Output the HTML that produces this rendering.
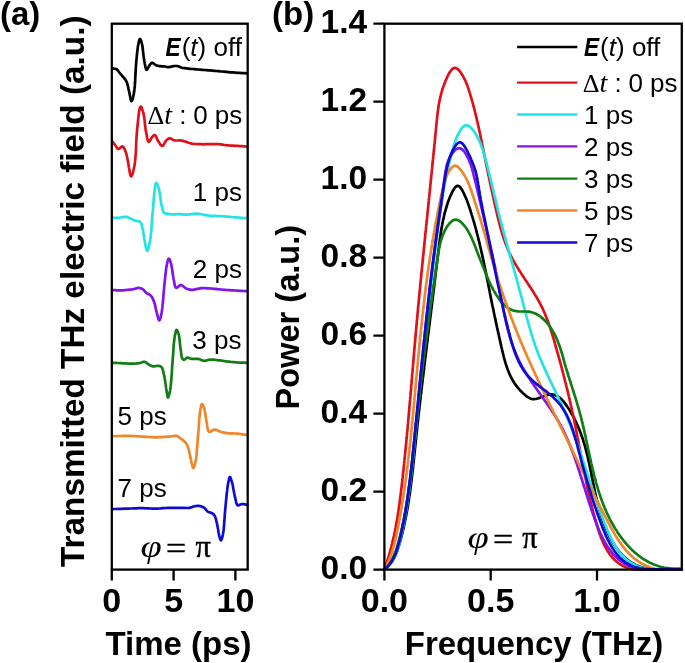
<!DOCTYPE html>
<html><head><meta charset="utf-8"><style>
html,body{margin:0;padding:0;background:#fff;}
svg{display:block;}
</style></head><body>
<svg width="685" height="663" viewBox="0 0 685 663">
<rect width="685" height="663" fill="#fff"/>
<g fill="none" stroke-width="2.7" stroke-linejoin="round" stroke-linecap="round">
<path stroke="#000000" d="M112.5 68.6L113.0 68.7L113.5 68.7L114.0 68.7L114.5 68.7L115.0 68.8L115.5 68.9L115.9 69.0L116.4 69.2L116.9 69.5L117.4 70.0L117.9 70.5L118.3 71.1L118.8 71.7L119.2 72.3L119.6 72.8L120.1 73.4L120.6 73.9L121.0 74.5L121.5 75.0L121.9 75.5L122.4 76.1L122.8 76.6L123.3 77.2L123.7 77.7L124.1 78.2L124.5 78.7L124.9 79.2L125.3 79.7L125.7 80.2L126.0 80.7L126.4 81.3L126.7 81.9L127.1 82.9L127.4 84.0L127.7 85.2L128.0 86.4L128.3 87.7L128.5 89.0L128.8 90.3L129.1 91.5L129.4 92.8L129.7 94.4L130.0 96.0L130.3 97.6L130.6 99.0L130.9 100.1L131.2 100.9L131.5 101.2L131.8 101.0L132.1 100.4L132.5 99.5L132.8 98.4L133.1 97.1L133.4 95.7L133.7 94.2L134.0 92.8L134.4 89.7L134.8 85.9L135.1 81.7L135.3 77.2L135.6 72.7L135.8 68.2L136.1 64.0L136.4 60.2L136.7 57.6L136.9 54.9L137.2 52.4L137.5 49.9L137.8 47.5L138.1 45.4L138.5 43.6L138.8 42.1L138.9 41.5L139.1 41.0L139.2 40.5L139.4 40.0L139.5 39.6L139.7 39.3L139.8 39.1L140.0 39.0L140.2 39.1L140.4 39.4L140.7 39.8L140.9 40.4L141.1 41.1L141.4 41.8L141.6 42.6L141.8 43.3L142.2 44.9L142.5 46.8L142.8 49.0L143.0 51.3L143.3 53.7L143.6 56.1L143.9 58.2L144.2 60.2L144.5 61.7L144.7 63.2L145.0 64.8L145.3 66.3L145.6 67.7L145.9 68.7L146.2 69.5L146.6 69.8L146.9 69.7L147.1 69.5L147.4 69.0L147.7 68.5L148.0 67.9L148.3 67.3L148.7 66.7L149.0 66.2L149.3 65.7L149.7 65.2L150.0 64.7L150.4 64.1L150.8 63.6L151.2 63.2L151.6 62.9L152.0 62.8L152.4 62.8L152.9 63.0L153.3 63.3L153.8 63.6L154.3 64.0L154.8 64.4L155.2 64.7L155.7 65.0L156.1 65.2L156.4 65.3L156.8 65.5L157.1 65.6L157.5 65.7L157.9 65.8L158.3 65.9L158.7 66.0L159.4 66.1L160.1 66.2L160.9 66.2L161.7 66.3L162.5 66.3L163.3 66.4L164.0 66.4L164.7 66.5L165.2 66.6L165.6 66.7L166.1 66.8L166.5 66.9L166.9 67.0L167.4 67.1L167.8 67.2L168.3 67.2L169.0 67.2L169.7 67.0L170.5 66.9L171.3 66.6L172.2 66.4L172.9 66.2L173.7 66.1L174.4 66.0L174.9 66.0L175.4 66.0L175.8 66.0L176.3 66.0L176.7 66.0L177.1 66.0L177.6 66.1L178.0 66.2L178.5 66.3L178.9 66.5L179.3 66.7L179.7 66.9L180.2 67.1L180.7 67.3L181.2 67.5L181.8 67.7L183.1 68.0L184.7 68.2L186.5 68.4L188.4 68.6L190.3 68.8L192.3 69.0L194.3 69.1L196.2 69.3L198.2 69.5L200.2 69.6L202.2 69.8L204.2 70.0L206.2 70.1L208.3 70.3L210.3 70.4L212.3 70.6L214.3 70.8L216.3 71.0L218.3 71.2L220.2 71.4L222.2 71.5L224.2 71.7L226.2 71.9L228.3 72.1L230.5 72.3L232.8 72.4L235.1 72.6L237.5 72.8L239.8 72.9L242.1 73.1L244.5 73.2L246.8 73.4"/>
<path stroke="#e0101a" d="M112.5 141.8L112.9 142.3L113.3 142.7L113.6 143.2L114.0 143.7L114.4 144.1L114.8 144.6L115.1 145.0L115.5 145.5L115.8 146.0L116.2 146.5L116.5 147.1L116.8 147.6L117.2 148.1L117.5 148.5L117.9 148.8L118.3 149.0L118.7 148.9L119.2 148.6L119.7 148.2L120.3 147.7L120.8 147.2L121.3 146.8L121.8 146.5L122.2 146.4L122.6 146.5L123.0 146.8L123.4 147.2L123.7 147.7L124.1 148.2L124.4 148.8L124.7 149.4L125.0 150.0L125.4 151.0L125.8 152.1L126.1 153.3L126.5 154.5L126.8 155.9L127.1 157.3L127.4 158.7L127.7 160.1L128.1 162.2L128.5 164.7L128.9 167.3L129.4 170.0L129.8 172.5L130.2 174.5L130.6 175.9L131.1 176.4L131.5 176.1L131.9 175.4L132.4 174.2L132.9 172.8L133.3 171.1L133.7 169.2L134.1 167.3L134.5 165.5L135.0 161.9L135.4 157.7L135.8 153.0L136.0 148.0L136.2 142.9L136.5 137.9L136.8 133.2L137.2 128.9L137.6 125.5L137.9 121.9L138.3 118.2L138.7 114.6L139.1 111.5L139.6 108.9L140.1 107.2L140.6 106.5L140.9 106.6L141.3 107.0L141.6 107.7L142.0 108.5L142.3 109.5L142.7 110.5L143.0 111.6L143.3 112.6L143.7 114.5L144.1 116.7L144.4 119.2L144.7 121.8L145.0 124.4L145.3 127.0L145.6 129.4L146.0 131.6L146.3 133.2L146.6 134.8L146.9 136.5L147.2 138.1L147.5 139.5L147.9 140.7L148.3 141.5L148.7 141.8L149.1 141.7L149.5 141.3L149.9 140.7L150.3 140.0L150.8 139.2L151.2 138.4L151.7 137.7L152.1 137.1L152.4 136.7L152.8 136.4L153.1 136.0L153.5 135.6L153.8 135.3L154.1 135.1L154.5 135.0L154.8 135.0L155.2 135.3L155.7 135.8L156.1 136.6L156.5 137.4L156.9 138.4L157.3 139.4L157.7 140.3L158.2 141.1L158.7 141.8L159.2 142.6L159.7 143.4L160.2 144.2L160.7 144.9L161.3 145.4L161.8 145.8L162.3 145.9L162.8 145.7L163.3 145.2L163.8 144.5L164.3 143.6L164.8 142.7L165.3 141.8L165.8 141.0L166.3 140.4L166.7 140.0L167.1 139.7L167.5 139.4L167.9 139.1L168.4 138.8L168.8 138.6L169.2 138.5L169.7 138.4L170.2 138.4L170.8 138.6L171.4 138.9L172.0 139.2L172.6 139.6L173.2 139.9L173.8 140.2L174.5 140.4L175.3 140.5L176.0 140.5L176.8 140.5L177.7 140.5L178.5 140.5L179.3 140.4L180.1 140.4L180.9 140.5L181.6 140.6L182.3 140.8L183.0 140.9L183.6 141.1L184.3 141.3L185.0 141.5L185.6 141.7L186.3 141.9L187.0 142.1L187.6 142.3L188.3 142.6L188.9 142.8L189.6 143.0L190.3 143.2L191.0 143.4L191.7 143.6L192.6 143.8L193.6 143.9L194.6 144.0L195.6 144.0L196.7 144.1L197.7 144.1L198.8 144.2L199.9 144.2L201.2 144.2L202.5 144.3L203.9 144.3L205.3 144.2L206.7 144.2L208.1 144.2L209.4 144.2L210.7 144.2L211.8 144.2L212.8 144.2L213.9 144.2L214.9 144.1L215.9 144.1L216.9 144.1L217.9 144.1L218.9 144.2L219.9 144.3L220.9 144.4L221.9 144.6L222.9 144.7L223.9 144.9L224.9 145.0L225.9 145.2L227.0 145.3L228.3 145.4L229.6 145.5L231.0 145.6L232.4 145.6L233.8 145.7L235.2 145.8L236.6 145.8L237.9 145.9L239.0 146.0L240.2 146.1L241.3 146.2L242.4 146.2L243.4 146.3L244.5 146.4L245.6 146.5L246.7 146.6"/>
<path stroke="#22e4e6" d="M112.5 217.8L113.3 217.8L114.1 217.8L114.9 217.8L115.7 217.9L116.5 217.9L117.3 217.9L118.1 217.8L118.9 217.8L119.7 217.7L120.6 217.5L121.4 217.4L122.3 217.2L123.1 217.0L124.0 216.8L124.8 216.8L125.6 216.8L126.3 216.9L127.0 217.1L127.7 217.3L128.4 217.6L129.1 217.9L129.8 218.2L130.4 218.5L131.1 218.8L131.7 219.1L132.3 219.3L132.9 219.6L133.5 219.9L134.1 220.2L134.6 220.5L135.2 220.7L135.8 220.9L136.3 221.0L136.9 221.1L137.4 221.1L138.0 221.1L138.5 221.1L139.0 221.2L139.5 221.3L139.9 221.6L140.4 222.1L140.8 222.8L141.2 223.5L141.5 224.4L141.8 225.3L142.1 226.3L142.3 227.3L142.6 228.3L142.9 229.6L143.2 231.1L143.4 232.6L143.6 234.2L143.9 235.8L144.1 237.4L144.3 239.0L144.6 240.5L144.9 242.0L145.2 243.6L145.5 245.3L145.9 246.9L146.2 248.4L146.6 249.6L147.0 250.4L147.3 250.7L147.7 250.4L148.0 249.7L148.4 248.6L148.7 247.2L149.1 245.6L149.5 243.9L149.8 242.2L150.1 240.5L150.6 237.5L150.9 234.1L151.3 230.4L151.6 226.5L151.8 222.5L152.1 218.4L152.4 214.5L152.8 210.7L153.2 206.8L153.5 202.4L153.9 197.8L154.3 193.4L154.7 189.3L155.1 186.0L155.6 183.8L156.2 182.9L156.5 183.0L156.8 183.4L157.2 184.1L157.6 184.9L157.9 185.9L158.3 186.9L158.6 188.0L158.9 189.0L159.3 190.7L159.7 192.6L160.0 194.8L160.3 197.0L160.6 199.3L160.9 201.5L161.2 203.5L161.6 205.3L161.9 206.5L162.2 207.7L162.4 208.8L162.7 209.9L163.0 210.9L163.4 211.8L163.8 212.5L164.3 213.1L164.7 213.3L165.1 213.5L165.5 213.6L165.9 213.6L166.3 213.6L166.8 213.6L167.3 213.6L167.7 213.7L168.2 213.8L168.7 213.9L169.2 214.0L169.7 214.2L170.2 214.3L170.7 214.4L171.2 214.4L171.8 214.5L172.5 214.5L173.3 214.5L174.0 214.4L174.8 214.3L175.6 214.3L176.4 214.2L177.3 214.1L178.1 214.1L179.1 214.1L180.0 214.2L181.0 214.3L182.1 214.4L183.1 214.5L184.1 214.5L185.2 214.6L186.3 214.6L187.6 214.5L188.9 214.4L190.3 214.3L191.7 214.1L193.1 213.9L194.4 213.8L195.8 213.7L197.2 213.7L198.5 213.8L199.9 214.0L201.2 214.2L202.5 214.5L203.9 214.8L205.2 215.1L206.6 215.3L208.0 215.5L209.6 215.7L211.3 215.8L213.0 215.8L214.7 215.9L216.4 216.0L218.2 216.0L219.9 216.1L221.6 216.2L223.3 216.3L225.0 216.4L226.8 216.6L228.5 216.7L230.2 216.9L231.9 217.0L233.6 217.2L235.2 217.3L236.7 217.4L238.1 217.5L239.6 217.6L241.0 217.8L242.4 217.9L243.8 218.0L245.3 218.1L246.7 218.2"/>
<path stroke="#8214ec" d="M112.5 290.0L113.5 290.1L114.4 290.1L115.4 290.2L116.3 290.3L117.3 290.3L118.3 290.4L119.2 290.4L120.2 290.4L121.2 290.4L122.3 290.3L123.3 290.3L124.4 290.2L125.4 290.1L126.5 290.0L127.5 289.9L128.4 289.8L129.1 289.7L129.8 289.7L130.5 289.6L131.2 289.5L131.9 289.4L132.5 289.3L133.2 289.2L133.8 289.1L134.4 289.0L135.0 288.8L135.6 288.6L136.2 288.4L136.8 288.2L137.4 288.0L137.9 287.9L138.5 287.9L139.0 287.9L139.6 288.0L140.1 288.1L140.6 288.2L141.1 288.4L141.6 288.6L142.1 288.8L142.6 289.1L143.1 289.5L143.7 290.0L144.2 290.5L144.7 291.1L145.2 291.7L145.7 292.2L146.2 292.7L146.7 293.2L147.2 293.5L147.7 293.8L148.2 294.0L148.8 294.3L149.3 294.5L149.8 294.8L150.3 295.1L150.7 295.5L151.2 296.1L151.7 296.8L152.2 297.6L152.6 298.4L153.0 299.2L153.4 300.1L153.7 301.1L154.1 302.0L154.5 303.2L154.9 304.5L155.2 305.9L155.5 307.3L155.8 308.8L156.1 310.2L156.5 311.5L156.8 312.8L157.1 313.9L157.4 315.1L157.7 316.4L158.0 317.6L158.4 318.7L158.7 319.5L159.0 320.1L159.3 320.3L159.6 320.1L159.9 319.6L160.2 318.8L160.5 317.8L160.8 316.6L161.1 315.4L161.3 314.1L161.6 312.8L162.0 310.2L162.4 307.2L162.7 303.8L163.1 300.1L163.4 296.4L163.7 292.7L164.0 289.1L164.3 285.7L164.6 282.8L164.9 279.8L165.2 276.7L165.6 273.8L165.9 271.0L166.2 268.3L166.6 266.0L167.0 264.0L167.2 263.1L167.4 262.1L167.6 261.2L167.9 260.4L168.1 259.7L168.3 259.1L168.6 258.7L168.8 258.6L169.1 258.7L169.4 259.1L169.7 259.7L170.0 260.4L170.3 261.3L170.6 262.2L170.8 263.1L171.1 264.0L171.5 265.5L171.8 267.3L172.1 269.2L172.4 271.3L172.7 273.3L173.0 275.4L173.3 277.3L173.6 279.0L173.9 280.3L174.1 281.7L174.3 283.1L174.6 284.4L174.8 285.6L175.2 286.6L175.6 287.4L176.1 287.8L176.6 287.8L177.1 287.6L177.7 287.1L178.3 286.6L179.0 286.1L179.6 285.6L180.3 285.2L180.9 285.1L181.6 285.2L182.2 285.5L182.9 286.0L183.6 286.5L184.2 287.1L184.9 287.6L185.6 288.1L186.3 288.5L186.9 288.8L187.6 289.0L188.2 289.2L188.9 289.4L189.5 289.6L190.2 289.7L190.9 289.8L191.7 289.8L192.8 289.8L193.9 289.6L195.1 289.4L196.3 289.1L197.5 288.8L198.8 288.6L200.0 288.3L201.2 288.2L202.4 288.1L203.5 288.1L204.7 288.1L205.8 288.2L207.0 288.3L208.2 288.3L209.4 288.4L210.7 288.5L212.3 288.6L214.0 288.8L215.7 288.9L217.4 289.1L219.2 289.3L220.9 289.5L222.7 289.7L224.3 289.8L225.7 289.9L227.1 290.0L228.5 290.1L229.8 290.2L231.1 290.3L232.5 290.3L233.8 290.4L235.2 290.5L236.6 290.6L238.1 290.7L239.5 290.8L240.9 290.9L242.4 290.9L243.8 291.0L245.3 291.1L246.7 291.2"/>
<path stroke="#117d15" d="M112.5 362.8L113.6 362.8L114.8 362.9L115.9 362.9L117.1 363.0L118.2 363.0L119.4 363.1L120.5 363.1L121.6 363.2L122.6 363.3L123.6 363.3L124.6 363.4L125.6 363.4L126.6 363.5L127.6 363.6L128.7 363.6L129.7 363.6L130.9 363.6L132.1 363.6L133.3 363.6L134.6 363.6L135.8 363.5L137.0 363.4L138.1 363.3L139.2 363.2L140.0 363.0L140.7 362.8L141.4 362.5L142.1 362.3L142.8 362.0L143.4 361.9L144.1 361.8L144.7 361.8L145.2 362.0L145.8 362.2L146.3 362.6L146.7 363.0L147.2 363.4L147.7 363.8L148.2 364.2L148.7 364.5L149.2 364.8L149.7 365.1L150.2 365.3L150.7 365.6L151.2 365.8L151.7 366.0L152.2 366.2L152.8 366.3L153.5 366.4L154.3 366.3L155.1 366.2L155.9 366.1L156.7 366.0L157.5 365.9L158.3 365.8L158.9 365.9L159.3 366.0L159.7 366.1L160.0 366.2L160.4 366.3L160.7 366.5L161.0 366.7L161.3 367.0L161.6 367.3L162.1 368.0L162.5 368.9L162.8 369.9L163.2 371.1L163.5 372.3L163.7 373.6L164.0 374.8L164.3 376.1L164.6 377.7L164.9 379.4L165.2 381.1L165.4 382.9L165.7 384.7L165.9 386.5L166.1 388.2L166.4 389.7L166.6 390.9L166.8 392.2L167.0 393.5L167.2 394.7L167.4 395.8L167.6 396.7L167.8 397.3L168.0 397.5L168.3 397.3L168.5 396.8L168.8 395.9L169.1 394.9L169.4 393.7L169.7 392.4L170.0 391.0L170.2 389.7L170.6 387.1L170.9 384.0L171.2 380.7L171.5 377.1L171.8 373.3L172.0 369.6L172.2 365.9L172.5 362.5L172.7 359.3L173.0 356.0L173.2 352.7L173.4 349.4L173.6 346.2L173.9 343.2L174.2 340.5L174.5 338.1L174.7 336.7L175.0 335.4L175.2 334.0L175.5 332.7L175.7 331.6L176.0 330.7L176.3 330.1L176.6 329.9L176.8 330.0L177.1 330.3L177.3 330.7L177.6 331.2L177.9 331.9L178.1 332.6L178.4 333.3L178.6 334.0L178.9 335.4L179.2 337.1L179.5 339.0L179.7 341.0L179.9 343.1L180.1 345.2L180.3 347.1L180.6 348.9L180.8 350.4L181.0 351.9L181.2 353.4L181.4 354.9L181.6 356.3L181.9 357.5L182.3 358.5L182.7 359.1L182.9 359.3L183.2 359.4L183.4 359.5L183.7 359.6L183.9 359.6L184.2 359.6L184.4 359.5L184.7 359.5L185.0 359.4L185.3 359.1L185.6 358.9L186.0 358.5L186.3 358.2L186.6 357.9L186.9 357.7L187.3 357.6L187.7 357.6L188.1 357.7L188.5 357.8L188.9 358.0L189.4 358.2L189.8 358.4L190.3 358.6L190.8 358.7L191.6 358.8L192.5 358.8L193.4 358.8L194.3 358.8L195.3 358.8L196.3 358.8L197.2 358.8L198.1 358.9L198.9 359.1L199.6 359.3L200.4 359.6L201.1 359.9L201.9 360.2L202.6 360.5L203.3 360.7L204.1 360.8L204.8 360.8L205.6 360.7L206.3 360.5L207.1 360.3L207.8 360.1L208.6 359.9L209.4 359.7L210.2 359.6L211.3 359.6L212.5 359.6L213.7 359.7L214.9 359.8L216.1 360.0L217.4 360.1L218.6 360.3L219.8 360.4L220.9 360.5L222.0 360.7L223.0 360.8L224.1 361.0L225.1 361.2L226.1 361.3L227.2 361.5L228.3 361.6L229.5 361.7L230.7 361.9L231.9 362.0L233.1 362.1L234.3 362.2L235.5 362.3L236.7 362.4L237.9 362.5L239.0 362.6L240.2 362.6L241.3 362.7L242.5 362.7L243.6 362.7L244.7 362.7L245.9 362.8L247.0 362.8"/>
<path stroke="#f08628" d="M112.5 436.2L114.5 436.2L116.5 436.1L118.5 436.0L120.5 436.0L122.5 435.9L124.5 435.9L126.5 435.9L128.4 435.9L130.1 435.9L131.9 436.0L133.5 436.1L135.2 436.2L136.9 436.3L138.5 436.4L140.2 436.5L141.9 436.6L143.6 436.7L145.3 436.8L147.0 436.9L148.7 437.0L150.4 437.1L152.1 437.2L153.8 437.3L155.5 437.3L157.2 437.3L159.0 437.2L160.8 437.2L162.6 437.1L164.3 436.9L166.0 436.8L167.6 436.7L169.1 436.6L170.2 436.5L171.2 436.3L172.2 436.2L173.1 436.0L174.0 435.9L174.9 435.8L175.7 435.8L176.5 435.9L177.0 436.0L177.5 436.2L177.9 436.5L178.3 436.7L178.7 437.0L179.1 437.3L179.5 437.7L180.0 438.0L180.7 438.5L181.5 439.1L182.3 439.7L183.2 440.4L184.0 441.1L184.8 441.8L185.5 442.5L186.1 443.3L186.6 444.1L187.0 444.8L187.4 445.6L187.7 446.5L188.0 447.3L188.2 448.2L188.5 449.1L188.8 450.1L189.2 451.5L189.5 453.0L189.9 454.6L190.2 456.3L190.5 457.9L190.9 459.5L191.2 461.0L191.5 462.3L191.7 463.2L191.9 464.1L192.2 465.1L192.4 466.0L192.6 466.8L192.8 467.4L193.1 467.8L193.3 468.0L193.6 467.8L193.9 467.4L194.2 466.6L194.5 465.7L194.8 464.6L195.1 463.4L195.3 462.2L195.6 461.0L196.1 458.4L196.5 455.2L196.8 451.6L197.1 447.8L197.4 443.8L197.7 439.9L198.0 436.1L198.3 432.5L198.6 429.4L198.8 426.2L199.0 422.9L199.3 419.8L199.5 416.8L199.8 414.0L200.1 411.5L200.4 409.4L200.6 408.5L200.8 407.5L200.9 406.6L201.1 405.8L201.3 405.1L201.5 404.5L201.8 404.1L202.0 404.0L202.2 404.1L202.5 404.4L202.8 404.8L203.0 405.3L203.3 406.0L203.6 406.7L203.9 407.4L204.1 408.1L204.5 409.4L204.8 410.9L205.1 412.7L205.4 414.5L205.6 416.3L205.9 418.2L206.2 420.0L206.5 421.6L206.8 423.1L207.0 424.6L207.2 426.2L207.5 427.7L207.8 429.2L208.1 430.4L208.6 431.3L209.2 431.8L209.7 431.9L210.3 431.7L211.0 431.4L211.7 430.9L212.4 430.4L213.2 430.0L213.9 429.6L214.6 429.5L215.3 429.6L216.1 429.8L216.8 430.0L217.6 430.4L218.4 430.8L219.1 431.2L219.9 431.5L220.7 431.8L221.5 432.0L222.3 432.2L223.2 432.4L224.0 432.6L224.8 432.8L225.7 432.9L226.6 433.1L227.5 433.2L228.6 433.3L229.8 433.4L230.9 433.4L232.1 433.4L233.4 433.4L234.6 433.5L235.8 433.5L237.0 433.6L238.2 433.7L239.4 433.9L240.6 434.0L241.8 434.2L242.9 434.4L244.1 434.6L245.3 434.7L246.5 434.9"/>
<path stroke="#0e0cd2" d="M112.5 509.1L114.5 509.0L116.5 509.0L118.5 508.9L120.5 508.8L122.5 508.8L124.5 508.7L126.5 508.7L128.4 508.6L130.1 508.5L131.9 508.5L133.5 508.4L135.2 508.3L136.9 508.3L138.5 508.2L140.2 508.2L141.9 508.2L143.6 508.2L145.3 508.3L147.0 508.3L148.7 508.4L150.4 508.5L152.1 508.6L153.8 508.6L155.5 508.6L157.2 508.6L158.9 508.5L160.7 508.4L162.4 508.2L164.1 508.1L165.8 508.0L167.5 507.9L169.1 507.8L170.5 507.8L171.9 507.8L173.3 507.8L174.7 507.8L176.0 507.8L177.4 507.8L178.7 507.8L180.0 507.8L181.2 507.8L182.5 507.9L183.8 507.9L185.0 507.9L186.3 508.0L187.4 508.0L188.5 507.9L189.5 507.8L190.1 507.7L190.6 507.5L191.1 507.4L191.6 507.2L192.1 507.0L192.6 506.8L193.1 506.6L193.6 506.5L194.2 506.4L194.9 506.2L195.6 506.1L196.3 506.0L197.0 505.9L197.7 505.9L198.3 505.9L199.0 505.9L199.6 506.0L200.2 506.1L200.8 506.3L201.4 506.4L202.0 506.7L202.6 506.9L203.2 507.2L203.7 507.5L204.3 507.9L204.8 508.4L205.3 509.0L205.8 509.5L206.3 510.1L206.8 510.7L207.3 511.2L207.8 511.6L208.3 511.9L208.8 512.1L209.4 512.3L209.9 512.4L210.4 512.6L210.9 512.8L211.4 513.0L211.9 513.2L212.3 513.4L212.7 513.7L213.0 513.9L213.4 514.2L213.7 514.5L214.0 514.8L214.3 515.2L214.6 515.6L215.0 516.5L215.4 517.5L215.8 518.6L216.1 519.9L216.4 521.2L216.7 522.5L217.0 523.8L217.3 525.1L217.6 526.5L217.8 527.9L218.1 529.4L218.3 530.8L218.5 532.3L218.8 533.6L219.0 534.9L219.3 536.0L219.5 536.7L219.7 537.4L219.9 538.2L220.1 538.8L220.4 539.4L220.6 539.9L220.8 540.2L221.0 540.3L221.3 540.1L221.5 539.6L221.8 538.9L222.1 538.0L222.4 536.9L222.6 535.7L222.9 534.5L223.1 533.3L223.5 530.9L223.8 528.0L224.1 524.8L224.3 521.4L224.6 517.8L224.8 514.3L225.1 510.8L225.4 507.5L225.7 504.3L226.0 501.0L226.4 497.6L226.7 494.2L227.1 491.0L227.4 488.0L227.8 485.4L228.2 483.1L228.4 482.1L228.6 481.0L228.8 480.0L229.0 479.0L229.2 478.2L229.4 477.6L229.7 477.2L229.9 477.0L230.2 477.2L230.4 477.6L230.7 478.3L231.0 479.1L231.3 480.1L231.6 481.1L231.9 482.1L232.2 483.1L232.6 484.5L232.9 486.2L233.2 487.9L233.5 489.7L233.9 491.5L234.2 493.3L234.5 495.0L234.9 496.6L235.2 497.9L235.5 499.3L235.8 500.6L236.1 502.0L236.4 503.2L236.8 504.2L237.2 505.0L237.7 505.4L238.0 505.5L238.3 505.5L238.6 505.3L239.0 505.2L239.3 505.0L239.7 504.8L240.0 504.6L240.4 504.5L240.8 504.4L241.2 504.3L241.6 504.2L242.1 504.2L242.5 504.1L242.9 504.1L243.4 504.1L243.8 504.1L244.2 504.1L244.7 504.2L245.1 504.3L245.5 504.5L245.9 504.6L246.4 504.7L246.8 504.9L247.2 505.0"/>
</g>
<g fill="none" stroke-width="2.7" stroke-linejoin="round" stroke-linecap="round">
<path stroke="#000000" d="M384.4 569.3L385.8 568.3L387.1 567.1L388.3 565.9L389.4 564.7L390.4 563.5L391.4 562.3L392.2 561.1L393.0 559.8L393.8 558.6L394.4 557.3L395.1 556.1L395.6 554.8L396.2 553.5L396.7 552.2L397.2 550.9L397.6 549.6L398.0 548.3L398.5 547.0L398.9 545.7L399.3 544.4L399.7 543.0L400.1 541.7L400.4 540.3L400.8 539.0L401.2 537.6L401.6 536.2L401.9 534.9L402.3 533.5L402.6 532.1L402.9 530.7L403.3 529.3L403.6 527.9L403.9 526.5L404.2 525.1L404.5 523.6L404.8 522.2L405.1 520.8L405.4 519.3L405.7 517.9L406.0 516.5L406.3 515.0L406.5 513.5L406.8 512.1L407.1 510.6L407.3 509.2L407.6 507.7L407.8 506.2L408.1 504.7L408.3 503.3L408.5 501.8L408.8 500.3L409.0 498.8L409.2 497.3L409.4 495.8L409.7 494.3L409.9 492.8L410.1 491.3L410.3 489.8L410.5 488.3L410.7 486.8L410.9 485.2L411.1 483.7L411.3 482.2L411.5 480.7L411.6 479.2L411.8 477.6L412.0 476.1L412.2 474.6L412.4 473.1L412.5 471.5L412.7 470.0L412.9 468.5L413.1 467.0L413.2 465.4L413.4 463.9L413.6 462.4L413.7 460.8L413.9 459.3L414.0 457.8L414.2 456.2L414.4 454.7L414.5 453.2L414.7 451.7L414.8 450.1L415.0 448.6L415.2 447.1L415.3 445.6L415.5 444.0L415.6 442.5L415.8 441.0L415.9 439.5L416.1 438.0L416.3 436.4L416.4 434.9L416.6 433.4L416.7 431.9L416.9 430.4L417.1 428.9L417.2 427.4L417.4 425.9L417.5 424.4L417.7 422.9L417.9 421.4L418.0 419.9L418.2 418.4L418.4 416.9L418.5 415.4L418.7 413.9L418.9 412.4L419.0 410.9L419.2 409.5L419.4 408.0L419.5 406.5L419.7 405.0L419.9 403.5L420.0 402.0L420.2 400.6L420.4 399.1L420.6 397.6L420.7 396.1L420.9 394.6L421.1 393.2L421.3 391.7L421.4 390.2L421.6 388.8L421.8 387.3L421.9 385.8L422.1 384.3L422.3 382.9L422.5 381.4L422.6 379.9L422.8 378.5L423.0 377.0L423.2 375.5L423.4 374.1L423.5 372.6L423.7 371.1L423.9 369.7L424.1 368.2L424.2 366.7L424.4 365.3L424.6 363.8L424.8 362.3L425.0 360.9L425.1 359.4L425.3 357.9L425.5 356.5L425.7 355.0L425.9 353.5L426.0 352.1L426.2 350.6L426.4 349.1L426.6 347.7L426.8 346.2L426.9 344.7L427.1 343.2L427.3 341.8L427.5 340.3L427.7 338.8L427.8 337.4L428.0 335.9L428.2 334.4L428.4 332.9L428.6 331.5L428.8 330.0L428.9 328.5L429.1 327.0L429.3 325.6L429.5 324.1L429.7 322.6L429.9 321.1L430.0 319.6L430.2 318.1L430.4 316.7L430.6 315.2L430.8 313.7L431.0 312.2L431.1 310.7L431.3 309.2L431.5 307.7L431.7 306.2L431.9 304.7L432.1 303.2L432.2 301.7L432.4 300.2L432.6 298.7L432.8 297.2L433.0 295.7L433.2 294.2L433.3 292.7L433.5 291.2L433.7 289.7L433.9 288.2L434.1 286.7L434.3 285.2L434.4 283.7L434.6 282.2L434.8 280.6L435.0 279.1L435.2 277.6L435.4 276.1L435.5 274.6L435.7 273.1L435.9 271.6L436.1 270.1L436.3 268.6L436.4 267.1L436.6 265.6L436.8 264.1L437.0 262.6L437.2 261.1L437.3 259.7L437.5 258.2L437.7 256.7L437.9 255.2L438.1 253.8L438.2 252.3L438.4 250.8L438.6 249.4L438.8 247.9L439.0 246.4L439.1 245.0L439.3 243.6L439.5 242.1L439.7 240.7L439.9 239.2L440.1 237.8L440.3 236.4L440.5 234.9L440.7 233.5L440.9 232.0L441.2 230.6L441.4 229.2L441.6 227.7L441.9 226.3L442.2 224.8L442.4 223.4L442.7 222.0L443.0 220.5L443.3 219.1L443.7 217.6L444.0 216.1L444.3 214.7L444.7 213.2L445.1 211.7L445.5 210.3L445.9 208.8L446.4 207.3L446.8 205.8L447.3 204.3L447.8 202.8L448.3 201.3L448.9 199.7L449.5 198.2L450.1 196.7L450.8 195.1L451.5 193.6L452.2 192.1L453.0 190.6L453.9 189.2L454.7 187.9L455.6 186.9L456.5 186.2L457.4 185.8L458.3 185.9L459.2 186.3L460.1 187.1L460.9 188.2L461.8 189.5L462.6 190.9L463.4 192.5L464.2 194.1L464.9 195.7L465.6 197.3L466.3 198.8L466.9 200.4L467.5 201.9L468.0 203.4L468.5 204.9L469.0 206.4L469.5 207.8L470.0 209.3L470.5 210.7L470.9 212.2L471.4 213.6L471.8 215.1L472.3 216.5L472.7 217.9L473.1 219.4L473.6 220.8L474.0 222.3L474.4 223.7L474.8 225.1L475.2 226.6L475.6 228.0L476.0 229.4L476.4 230.8L476.7 232.3L477.1 233.7L477.5 235.1L477.8 236.5L478.2 237.9L478.5 239.4L478.9 240.8L479.2 242.2L479.6 243.6L479.9 245.1L480.2 246.5L480.6 247.9L480.9 249.3L481.2 250.7L481.5 252.2L481.9 253.6L482.2 255.0L482.5 256.4L482.8 257.8L483.1 259.3L483.4 260.7L483.7 262.1L484.0 263.6L484.3 265.0L484.6 266.4L484.9 267.9L485.2 269.3L485.5 270.7L485.8 272.2L486.1 273.6L486.4 275.0L486.7 276.5L486.9 277.9L487.2 279.4L487.5 280.8L487.8 282.3L488.1 283.7L488.4 285.2L488.7 286.7L489.0 288.1L489.3 289.6L489.6 291.1L489.8 292.5L490.1 294.0L490.4 295.5L490.7 297.0L491.0 298.5L491.3 300.0L491.6 301.5L491.9 303.0L492.2 304.5L492.5 306.0L492.9 307.5L493.2 309.0L493.5 310.5L493.8 312.0L494.1 313.5L494.4 315.0L494.7 316.6L495.1 318.1L495.4 319.6L495.7 321.1L496.0 322.6L496.3 324.2L496.7 325.7L497.0 327.2L497.3 328.7L497.7 330.2L498.0 331.7L498.3 333.2L498.7 334.7L499.0 336.2L499.3 337.7L499.7 339.2L500.0 340.7L500.3 342.2L500.7 343.7L501.0 345.1L501.3 346.6L501.7 348.1L502.0 349.5L502.4 351.0L502.7 352.4L503.1 353.9L503.4 355.3L503.8 356.7L504.1 358.1L504.5 359.5L504.9 360.9L505.3 362.3L505.7 363.7L506.2 365.1L506.6 366.5L507.1 367.8L507.6 369.2L508.1 370.5L508.6 371.8L509.1 373.1L509.7 374.4L510.3 375.7L510.9 377.0L511.6 378.3L512.3 379.5L513.0 380.8L513.7 382.0L514.5 383.2L515.3 384.4L516.2 385.6L517.1 386.8L518.0 387.9L519.0 389.1L520.0 390.2L521.1 391.3L522.2 392.4L523.3 393.5L524.5 394.5L525.7 395.6L527.0 396.6L528.4 397.4L529.7 398.2L531.1 398.7L532.5 399.1L534.0 399.1L535.4 399.0L536.9 398.7L538.4 398.2L539.9 397.7L541.4 397.1L542.8 396.5L544.3 396.0L545.8 395.5L547.2 395.0L548.6 394.7L550.0 394.5L551.4 394.4L552.7 394.5L554.0 394.7L555.3 395.1L556.5 395.7L557.7 396.3L558.9 397.1L560.0 398.0L561.1 399.0L562.1 400.0L563.2 401.2L564.2 402.4L565.1 403.6L566.1 404.9L567.0 406.3L567.9 407.6L568.8 408.9L569.6 410.3L570.5 411.6L571.3 413.0L572.0 414.4L572.8 415.7L573.5 417.1L574.3 418.5L574.9 419.8L575.6 421.2L576.3 422.6L576.9 424.0L577.5 425.3L578.1 426.7L578.7 428.1L579.3 429.5L579.8 430.9L580.4 432.3L580.9 433.7L581.4 435.1L581.9 436.5L582.4 437.9L582.8 439.3L583.3 440.7L583.7 442.1L584.2 443.6L584.6 445.0L585.0 446.4L585.4 447.8L585.8 449.2L586.1 450.7L586.5 452.1L586.9 453.5L587.2 455.0L587.6 456.4L587.9 457.8L588.2 459.3L588.5 460.7L588.9 462.1L589.2 463.6L589.5 465.0L589.8 466.4L590.1 467.9L590.4 469.3L590.7 470.8L591.0 472.2L591.3 473.7L591.5 475.1L591.8 476.6L592.1 478.0L592.4 479.5L592.7 480.9L593.0 482.4L593.3 483.8L593.6 485.3L593.9 486.7L594.2 488.2L594.5 489.6L594.8 491.1L595.1 492.6L595.5 494.0L595.8 495.5L596.1 496.9L596.5 498.4L596.8 499.8L597.2 501.3L597.5 502.8L597.9 504.2L598.3 505.7L598.7 507.1L599.1 508.6L599.5 510.0L599.9 511.5L600.3 513.0L600.8 514.4L601.3 515.9L601.7 517.3L602.2 518.8L602.7 520.2L603.2 521.7L603.8 523.1L604.3 524.6L604.9 526.0L605.5 527.5L606.1 528.9L606.7 530.3L607.3 531.8L608.0 533.2L608.6 534.6L609.3 536.0L610.0 537.3L610.7 538.7L611.5 540.1L612.2 541.4L613.0 542.7L613.8 544.0L614.6 545.3L615.4 546.5L616.3 547.8L617.2 549.0L618.1 550.2L619.0 551.3L620.0 552.4L620.9 553.5L621.9 554.6L622.9 555.7L624.0 556.7L625.0 557.7L626.1 558.6L627.2 559.5L628.3 560.4L629.5 561.3L630.7 562.1L631.9 562.8L633.1 563.6L634.4 564.2L635.7 564.9L637.0 565.5L638.3 566.0L639.7 566.6L641.1 567.0L642.5 567.4L644.0 567.8L645.4 568.1L646.9 568.4L648.4 568.7L650.0 568.9L651.5 569.0L653.1 569.2L654.6 569.3L656.2 569.3L657.8 569.3L659.3 569.3L660.9 569.3L662.5 569.3L664.1 569.3L665.6 569.3L667.2 569.3L668.7 569.3L670.3 569.3L671.8 569.3L673.3 569.3L674.8 569.3L676.2 569.3L677.7 569.3L679.1 569.3L680.5 569.3L681.8 569.3"/>
<path stroke="#e0101a" d="M384.4 569.3L384.9 568.1L385.4 566.6L385.9 565.2L386.4 563.7L386.9 562.3L387.3 560.8L387.8 559.3L388.2 557.9L388.7 556.4L389.1 555.0L389.5 553.5L389.9 552.1L390.3 550.6L390.7 549.2L391.1 547.7L391.5 546.3L391.8 544.8L392.2 543.3L392.5 541.9L392.9 540.4L393.2 539.0L393.5 537.5L393.9 536.0L394.2 534.6L394.5 533.1L394.8 531.7L395.1 530.2L395.4 528.7L395.7 527.3L395.9 525.8L396.2 524.3L396.5 522.9L396.7 521.4L397.0 519.9L397.2 518.5L397.5 517.0L397.7 515.5L397.9 514.1L398.2 512.6L398.4 511.1L398.6 509.7L398.8 508.2L399.0 506.7L399.3 505.2L399.5 503.8L399.7 502.3L399.9 500.8L400.0 499.4L400.2 497.9L400.4 496.4L400.6 494.9L400.8 493.5L401.0 492.0L401.1 490.5L401.3 489.0L401.5 487.6L401.7 486.1L401.8 484.6L402.0 483.1L402.2 481.6L402.3 480.2L402.5 478.7L402.7 477.2L402.8 475.7L403.0 474.3L403.1 472.8L403.3 471.3L403.5 469.8L403.6 468.3L403.8 466.8L403.9 465.4L404.1 463.9L404.2 462.4L404.4 460.9L404.5 459.4L404.7 458.0L404.8 456.5L405.0 455.0L405.1 453.5L405.3 452.0L405.4 450.5L405.6 449.0L405.7 447.6L405.9 446.1L406.0 444.6L406.2 443.1L406.3 441.6L406.4 440.1L406.6 438.6L406.7 437.1L406.9 435.7L407.0 434.2L407.1 432.7L407.3 431.2L407.4 429.7L407.6 428.2L407.7 426.7L407.8 425.2L408.0 423.7L408.1 422.3L408.2 420.8L408.4 419.3L408.5 417.8L408.6 416.3L408.8 414.8L408.9 413.3L409.0 411.8L409.2 410.3L409.3 408.8L409.4 407.3L409.5 405.8L409.7 404.3L409.8 402.8L409.9 401.4L410.1 399.9L410.2 398.4L410.3 396.9L410.5 395.4L410.6 393.9L410.7 392.4L410.8 390.9L411.0 389.4L411.1 387.9L411.2 386.4L411.3 384.9L411.5 383.4L411.6 381.9L411.7 380.4L411.9 378.9L412.0 377.4L412.1 375.9L412.2 374.4L412.4 372.9L412.5 371.4L412.6 369.9L412.7 368.4L412.9 366.9L413.0 365.5L413.1 364.0L413.3 362.5L413.4 361.0L413.5 359.5L413.6 358.0L413.8 356.5L413.9 355.0L414.0 353.5L414.1 352.0L414.3 350.5L414.4 349.0L414.5 347.5L414.7 346.0L414.8 344.5L414.9 343.0L415.1 341.5L415.2 340.0L415.3 338.5L415.5 337.0L415.6 335.5L415.7 334.0L415.9 332.5L416.0 331.0L416.1 329.5L416.3 328.0L416.4 326.5L416.5 325.0L416.7 323.5L416.8 322.0L416.9 320.5L417.1 319.0L417.2 317.5L417.4 316.0L417.5 314.5L417.6 313.0L417.8 311.5L417.9 310.0L418.0 308.5L418.2 307.0L418.3 305.5L418.5 304.0L418.6 302.5L418.8 301.0L418.9 299.5L419.0 298.0L419.2 296.5L419.3 295.0L419.5 293.5L419.6 292.0L419.8 290.5L419.9 289.0L420.1 287.5L420.2 286.0L420.3 284.5L420.5 283.0L420.6 281.5L420.8 280.0L420.9 278.5L421.1 277.0L421.2 275.5L421.4 274.0L421.5 272.5L421.7 271.0L421.8 269.5L422.0 268.0L422.1 266.5L422.3 265.0L422.4 263.5L422.6 262.0L422.7 260.5L422.9 259.0L423.0 257.5L423.2 256.0L423.3 254.6L423.5 253.1L423.6 251.6L423.8 250.1L423.9 248.6L424.1 247.1L424.2 245.6L424.4 244.1L424.5 242.6L424.7 241.1L424.8 239.6L425.0 238.1L425.1 236.6L425.3 235.1L425.4 233.6L425.6 232.1L425.7 230.6L425.9 229.2L426.0 227.7L426.2 226.2L426.3 224.7L426.5 223.2L426.6 221.7L426.8 220.2L427.0 218.7L427.1 217.2L427.3 215.7L427.4 214.2L427.6 212.8L427.7 211.3L427.9 209.8L428.0 208.3L428.2 206.8L428.3 205.3L428.5 203.8L428.6 202.3L428.8 200.9L428.9 199.4L429.1 197.9L429.2 196.4L429.4 194.9L429.5 193.4L429.7 191.9L429.8 190.5L430.0 189.0L430.1 187.5L430.3 186.0L430.4 184.5L430.6 183.0L430.7 181.6L430.9 180.1L431.0 178.6L431.2 177.1L431.3 175.6L431.5 174.2L431.6 172.7L431.8 171.2L431.9 169.7L432.1 168.2L432.2 166.8L432.4 165.3L432.5 163.8L432.7 162.3L432.8 160.9L433.0 159.4L433.1 157.9L433.3 156.4L433.4 155.0L433.6 153.5L433.7 152.0L433.9 150.5L434.0 149.1L434.2 147.6L434.3 146.1L434.4 144.7L434.6 143.2L434.7 141.7L434.9 140.2L435.0 138.8L435.2 137.3L435.3 135.8L435.4 134.4L435.6 132.9L435.7 131.4L435.9 130.0L436.0 128.5L436.2 127.0L436.3 125.6L436.4 124.1L436.6 122.7L436.7 121.2L436.9 119.7L437.0 118.3L437.2 116.8L437.3 115.3L437.5 113.9L437.7 112.4L437.9 110.9L438.1 109.5L438.3 108.0L438.5 106.5L438.7 105.0L439.0 103.5L439.3 102.1L439.6 100.6L439.9 99.1L440.2 97.6L440.6 96.1L441.0 94.6L441.4 93.0L441.8 91.5L442.2 90.0L442.7 88.5L443.2 86.9L443.8 85.4L444.3 83.8L445.0 82.3L445.6 80.7L446.3 79.1L447.0 77.6L447.7 76.0L448.5 74.4L449.3 72.9L450.2 71.5L451.1 70.3L452.0 69.3L452.9 68.5L453.8 68.0L454.8 67.8L455.8 68.0L456.8 68.5L457.8 69.2L458.8 70.2L459.8 71.3L460.7 72.6L461.6 73.9L462.5 75.3L463.3 76.8L464.1 78.2L464.8 79.7L465.5 81.1L466.1 82.6L466.7 84.1L467.3 85.6L467.9 87.1L468.4 88.6L468.9 90.1L469.4 91.6L469.8 93.1L470.3 94.6L470.7 96.1L471.2 97.6L471.6 99.1L472.0 100.5L472.4 102.0L472.8 103.5L473.2 104.9L473.6 106.4L474.0 107.8L474.4 109.2L474.7 110.7L475.1 112.1L475.4 113.5L475.8 114.9L476.1 116.4L476.5 117.8L476.8 119.2L477.1 120.6L477.4 122.0L477.8 123.4L478.1 124.8L478.4 126.2L478.7 127.6L479.0 129.0L479.3 130.5L479.6 131.9L479.9 133.3L480.2 134.7L480.5 136.1L480.8 137.5L481.1 138.9L481.4 140.3L481.7 141.8L481.9 143.2L482.2 144.6L482.5 146.1L482.8 147.5L483.1 148.9L483.4 150.4L483.7 151.8L484.0 153.3L484.3 154.8L484.6 156.2L484.9 157.7L485.2 159.2L485.5 160.7L485.8 162.2L486.1 163.7L486.4 165.2L486.7 166.7L487.0 168.2L487.4 169.7L487.7 171.2L488.0 172.8L488.3 174.3L488.6 175.8L489.0 177.3L489.3 178.8L489.6 180.4L489.9 181.9L490.2 183.4L490.6 184.9L490.9 186.5L491.2 188.0L491.6 189.5L491.9 191.0L492.2 192.5L492.5 194.0L492.9 195.6L493.2 197.1L493.5 198.6L493.9 200.1L494.2 201.6L494.5 203.0L494.9 204.5L495.2 206.0L495.6 207.5L495.9 209.0L496.2 210.4L496.6 211.9L496.9 213.3L497.2 214.8L497.6 216.2L497.9 217.6L498.3 219.0L498.6 220.5L499.0 221.9L499.3 223.3L499.7 224.7L500.1 226.1L500.4 227.5L500.8 228.8L501.2 230.2L501.6 231.6L502.0 233.0L502.4 234.3L502.9 235.7L503.3 237.1L503.7 238.4L504.2 239.8L504.7 241.1L505.1 242.4L505.6 243.8L506.2 245.1L506.7 246.4L507.2 247.8L507.8 249.1L508.3 250.4L508.9 251.7L509.5 253.1L510.2 254.4L510.8 255.7L511.5 257.0L512.1 258.3L512.8 259.6L513.6 260.9L514.3 262.2L515.0 263.5L515.8 264.8L516.6 266.1L517.4 267.4L518.2 268.7L519.0 270.0L519.8 271.3L520.7 272.6L521.5 273.9L522.4 275.2L523.2 276.5L524.1 277.8L524.9 279.2L525.8 280.5L526.7 281.8L527.5 283.1L528.4 284.4L529.3 285.7L530.1 287.0L531.0 288.3L531.8 289.6L532.7 290.9L533.5 292.2L534.3 293.6L535.1 294.9L535.9 296.2L536.7 297.5L537.5 298.9L538.2 300.2L539.0 301.5L539.7 302.9L540.4 304.2L541.1 305.5L541.8 306.9L542.4 308.2L543.1 309.6L543.7 311.0L544.3 312.3L544.9 313.7L545.4 315.1L546.0 316.4L546.5 317.8L547.1 319.2L547.6 320.6L548.1 321.9L548.6 323.3L549.1 324.7L549.6 326.1L550.1 327.5L550.5 328.9L551.0 330.3L551.4 331.7L551.9 333.1L552.3 334.5L552.7 335.9L553.1 337.3L553.6 338.7L554.0 340.2L554.4 341.6L554.8 343.0L555.2 344.4L555.6 345.8L556.0 347.3L556.4 348.7L556.8 350.1L557.2 351.6L557.6 353.0L558.0 354.4L558.4 355.9L558.8 357.3L559.2 358.7L559.6 360.2L560.0 361.6L560.4 363.1L560.8 364.5L561.2 366.0L561.6 367.4L561.9 368.9L562.3 370.3L562.7 371.8L563.1 373.2L563.5 374.7L563.8 376.1L564.2 377.6L564.6 379.0L565.0 380.5L565.3 382.0L565.7 383.4L566.1 384.9L566.4 386.3L566.8 387.8L567.2 389.2L567.5 390.7L567.9 392.2L568.2 393.6L568.6 395.1L568.9 396.6L569.3 398.0L569.6 399.5L569.9 400.9L570.3 402.4L570.6 403.9L570.9 405.3L571.3 406.8L571.6 408.3L571.9 409.7L572.2 411.2L572.5 412.6L572.9 414.1L573.2 415.6L573.5 417.0L573.8 418.5L574.1 419.9L574.4 421.4L574.7 422.9L575.0 424.3L575.3 425.8L575.6 427.2L575.8 428.7L576.1 430.1L576.4 431.6L576.7 433.1L577.0 434.5L577.3 436.0L577.5 437.4L577.8 438.9L578.1 440.3L578.4 441.8L578.7 443.3L578.9 444.7L579.2 446.2L579.5 447.6L579.8 449.1L580.0 450.6L580.3 452.0L580.6 453.5L580.9 454.9L581.1 456.4L581.4 457.9L581.7 459.3L582.0 460.8L582.3 462.2L582.5 463.7L582.8 465.2L583.1 466.6L583.4 468.1L583.7 469.6L584.0 471.0L584.3 472.5L584.6 473.9L584.9 475.4L585.2 476.9L585.5 478.3L585.8 479.8L586.1 481.3L586.4 482.8L586.7 484.2L587.0 485.7L587.3 487.2L587.6 488.6L588.0 490.1L588.3 491.6L588.6 493.1L589.0 494.5L589.3 496.0L589.6 497.5L590.0 499.0L590.3 500.5L590.7 501.9L591.1 503.4L591.4 504.9L591.8 506.4L592.2 507.9L592.5 509.4L592.9 510.9L593.3 512.3L593.7 513.8L594.1 515.3L594.5 516.8L594.9 518.3L595.3 519.8L595.8 521.3L596.2 522.8L596.6 524.3L597.1 525.8L597.5 527.3L598.0 528.8L598.5 530.3L599.0 531.7L599.4 533.2L600.0 534.7L600.5 536.1L601.0 537.6L601.6 539.0L602.2 540.4L602.8 541.8L603.4 543.1L604.0 544.5L604.7 545.8L605.4 547.1L606.1 548.4L606.8 549.7L607.5 550.9L608.3 552.1L609.1 553.3L609.9 554.5L610.8 555.6L611.7 556.7L612.6 557.8L613.6 558.8L614.5 559.8L615.6 560.7L616.6 561.6L617.7 562.5L618.8 563.3L620.0 564.1L621.2 564.9L622.4 565.6L623.7 566.2L625.0 566.8L626.3 567.4L627.7 567.9L629.1 568.3L630.6 568.8L632.1 569.2L633.6 569.3L635.1 569.3L636.6 569.3L638.2 569.3L639.8 569.3L641.4 569.3L643.0 569.3L644.6 569.3L646.3 569.3L647.9 569.3L649.5 569.3L651.2 569.3L652.8 569.3L654.4 569.3L656.1 569.3L657.7 569.3L659.3 569.3L660.9 569.3L662.5 569.3L664.0 569.3L665.6 569.3L667.1 569.3L668.6 569.3L670.1 569.3L671.5 569.3L672.9 569.3L674.3 569.3L675.7 569.3L677.0 569.3L678.2 569.3L679.5 569.3L680.7 569.3L681.8 569.3"/>
<path stroke="#22e4e6" d="M385.0 569.3L386.4 568.3L387.7 567.0L388.9 565.8L390.0 564.5L391.0 563.3L391.9 562.0L392.7 560.7L393.5 559.4L394.2 558.1L394.9 556.8L395.5 555.5L396.0 554.2L396.5 552.9L397.0 551.6L397.4 550.3L397.8 548.9L398.2 547.6L398.6 546.3L398.9 544.9L399.3 543.6L399.6 542.2L400.0 540.8L400.3 539.5L400.6 538.1L401.0 536.7L401.3 535.3L401.6 533.9L401.9 532.5L402.2 531.1L402.5 529.7L402.8 528.3L403.1 526.9L403.4 525.5L403.7 524.1L404.0 522.6L404.2 521.2L404.5 519.8L404.8 518.4L405.1 516.9L405.3 515.5L405.6 514.0L405.8 512.6L406.1 511.1L406.3 509.7L406.6 508.2L406.8 506.7L407.0 505.3L407.3 503.8L407.5 502.3L407.7 500.8L407.9 499.4L408.1 497.9L408.4 496.4L408.6 494.9L408.8 493.4L409.0 491.9L409.2 490.4L409.4 488.9L409.6 487.4L409.8 485.9L410.0 484.4L410.2 482.9L410.3 481.4L410.5 479.9L410.7 478.4L410.9 476.9L411.1 475.4L411.3 473.9L411.4 472.4L411.6 470.8L411.8 469.3L411.9 467.8L412.1 466.3L412.3 464.8L412.4 463.3L412.6 461.7L412.8 460.2L412.9 458.7L413.1 457.2L413.2 455.7L413.4 454.1L413.6 452.6L413.7 451.1L413.9 449.6L414.0 448.1L414.2 446.5L414.3 445.0L414.5 443.5L414.6 442.0L414.8 440.5L414.9 438.9L415.1 437.4L415.2 435.9L415.4 434.4L415.5 432.9L415.7 431.4L415.8 429.9L416.0 428.3L416.1 426.8L416.3 425.3L416.4 423.8L416.6 422.3L416.7 420.8L416.9 419.3L417.0 417.8L417.2 416.3L417.3 414.8L417.5 413.3L417.6 411.8L417.8 410.3L417.9 408.8L418.1 407.3L418.2 405.8L418.4 404.3L418.5 402.8L418.6 401.3L418.8 399.8L418.9 398.3L419.1 396.8L419.2 395.3L419.4 393.8L419.5 392.3L419.7 390.8L419.8 389.3L420.0 387.8L420.1 386.3L420.3 384.9L420.4 383.4L420.6 381.9L420.7 380.4L420.9 378.9L421.0 377.4L421.2 375.9L421.3 374.4L421.5 373.0L421.6 371.5L421.8 370.0L421.9 368.5L422.1 367.0L422.2 365.5L422.4 364.0L422.5 362.6L422.7 361.1L422.8 359.6L423.0 358.1L423.1 356.6L423.3 355.1L423.4 353.7L423.6 352.2L423.7 350.7L423.9 349.2L424.0 347.7L424.2 346.3L424.3 344.8L424.5 343.3L424.6 341.8L424.8 340.3L425.0 338.9L425.1 337.4L425.3 335.9L425.4 334.4L425.6 333.0L425.7 331.5L425.9 330.0L426.0 328.5L426.2 327.0L426.4 325.6L426.5 324.1L426.7 322.6L426.8 321.1L427.0 319.7L427.2 318.2L427.3 316.7L427.5 315.2L427.6 313.7L427.8 312.3L428.0 310.8L428.1 309.3L428.3 307.8L428.5 306.4L428.6 304.9L428.8 303.4L429.0 301.9L429.1 300.4L429.3 299.0L429.5 297.5L429.6 296.0L429.8 294.5L430.0 293.1L430.1 291.6L430.3 290.1L430.5 288.6L430.6 287.1L430.8 285.7L431.0 284.2L431.2 282.7L431.3 281.2L431.5 279.7L431.7 278.3L431.9 276.8L432.0 275.3L432.2 273.8L432.4 272.3L432.6 270.8L432.8 269.4L432.9 267.9L433.1 266.4L433.3 264.9L433.5 263.4L433.7 261.9L433.8 260.5L434.0 259.0L434.2 257.5L434.4 256.0L434.6 254.5L434.8 253.0L435.0 251.5L435.2 250.0L435.3 248.6L435.5 247.1L435.7 245.6L435.9 244.1L436.1 242.6L436.3 241.1L436.5 239.6L436.7 238.1L436.9 236.6L437.1 235.1L437.3 233.6L437.5 232.1L437.7 230.6L437.9 229.1L438.1 227.6L438.3 226.1L438.5 224.6L438.7 223.1L438.9 221.6L439.1 220.1L439.4 218.6L439.6 217.1L439.8 215.6L440.0 214.1L440.2 212.6L440.4 211.1L440.6 209.6L440.8 208.1L441.1 206.6L441.3 205.1L441.5 203.6L441.7 202.1L442.0 200.6L442.2 199.1L442.4 197.6L442.6 196.2L442.9 194.7L443.1 193.2L443.4 191.8L443.6 190.4L443.8 188.9L444.1 187.5L444.4 186.1L444.6 184.7L444.9 183.3L445.1 181.9L445.4 180.6L445.7 179.2L446.0 177.8L446.3 176.4L446.6 175.0L446.9 173.6L447.2 172.2L447.5 170.8L447.8 169.3L448.1 167.9L448.5 166.4L448.8 165.0L449.1 163.5L449.5 162.0L449.9 160.5L450.2 158.9L450.6 157.4L451.0 155.8L451.4 154.2L451.8 152.6L452.2 151.0L452.6 149.4L453.1 147.8L453.6 146.3L454.1 144.7L454.6 143.1L455.1 141.6L455.7 140.0L456.3 138.5L456.9 137.1L457.5 135.6L458.2 134.2L458.9 132.9L459.6 131.6L460.4 130.3L461.2 129.1L462.0 128.0L462.9 127.0L463.8 126.2L464.8 125.6L465.8 125.2L466.9 125.3L468.0 125.6L469.1 126.2L470.2 127.1L471.3 128.1L472.4 129.3L473.5 130.7L474.5 132.1L475.4 133.6L476.4 135.1L477.2 136.7L478.0 138.3L478.8 139.8L479.5 141.4L480.2 142.9L480.8 144.5L481.3 145.9L481.8 147.3L482.3 148.7L482.8 150.1L483.2 151.5L483.6 152.8L484.0 154.1L484.4 155.5L484.8 156.8L485.2 158.2L485.6 159.5L485.9 160.9L486.3 162.3L486.7 163.7L487.0 165.0L487.4 166.4L487.8 167.8L488.1 169.2L488.5 170.7L488.8 172.1L489.2 173.5L489.5 174.9L489.9 176.4L490.2 177.8L490.6 179.2L490.9 180.7L491.3 182.1L491.6 183.6L492.0 185.0L492.3 186.5L492.7 187.9L493.0 189.4L493.4 190.9L493.7 192.3L494.1 193.8L494.4 195.3L494.8 196.8L495.1 198.2L495.5 199.7L495.8 201.2L496.2 202.7L496.5 204.1L496.9 205.6L497.2 207.1L497.6 208.6L497.9 210.0L498.3 211.5L498.7 213.0L499.0 214.5L499.4 215.9L499.8 217.4L500.2 218.9L500.5 220.3L500.9 221.8L501.3 223.3L501.7 224.7L502.0 226.2L502.4 227.7L502.8 229.1L503.2 230.6L503.6 232.1L504.0 233.5L504.4 235.0L504.8 236.4L505.2 237.9L505.5 239.4L505.9 240.8L506.3 242.3L506.7 243.7L507.1 245.2L507.5 246.6L507.9 248.1L508.3 249.5L508.7 251.0L509.1 252.4L509.5 253.9L509.9 255.3L510.3 256.8L510.7 258.2L511.2 259.7L511.6 261.1L512.0 262.6L512.4 264.0L512.8 265.5L513.2 266.9L513.6 268.3L514.0 269.8L514.4 271.2L514.8 272.7L515.2 274.1L515.6 275.5L516.0 277.0L516.4 278.4L516.8 279.9L517.2 281.3L517.6 282.7L518.0 284.2L518.3 285.6L518.7 287.0L519.1 288.5L519.5 289.9L519.9 291.3L520.3 292.7L520.7 294.2L521.0 295.6L521.4 297.0L521.8 298.5L522.2 299.9L522.5 301.3L522.9 302.7L523.3 304.2L523.6 305.6L524.0 307.0L524.4 308.4L524.8 309.9L525.1 311.3L525.5 312.7L525.9 314.1L526.3 315.5L526.6 317.0L527.0 318.4L527.4 319.8L527.8 321.2L528.2 322.6L528.6 324.0L529.0 325.4L529.4 326.9L529.8 328.3L530.2 329.7L530.6 331.1L531.0 332.5L531.4 333.9L531.9 335.3L532.3 336.7L532.8 338.2L533.2 339.6L533.7 341.0L534.2 342.4L534.6 343.8L535.1 345.2L535.6 346.6L536.1 348.0L536.6 349.4L537.2 350.8L537.7 352.2L538.3 353.6L538.8 355.0L539.4 356.4L539.9 357.8L540.5 359.2L541.1 360.6L541.7 362.0L542.3 363.4L542.9 364.8L543.5 366.2L544.2 367.6L544.8 369.0L545.4 370.4L546.1 371.8L546.7 373.2L547.4 374.6L548.0 376.0L548.7 377.4L549.3 378.8L550.0 380.2L550.6 381.6L551.3 383.0L552.0 384.4L552.6 385.7L553.3 387.1L554.0 388.5L554.6 389.9L555.3 391.3L556.0 392.7L556.6 394.1L557.3 395.5L557.9 396.9L558.6 398.2L559.2 399.6L559.9 401.0L560.5 402.4L561.2 403.8L561.8 405.2L562.4 406.6L563.0 407.9L563.7 409.3L564.3 410.7L564.9 412.1L565.5 413.5L566.1 414.9L566.6 416.2L567.2 417.6L567.8 419.0L568.3 420.4L568.9 421.8L569.5 423.2L570.0 424.5L570.6 425.9L571.1 427.3L571.6 428.7L572.2 430.1L572.7 431.4L573.2 432.8L573.7 434.2L574.2 435.6L574.7 437.0L575.3 438.3L575.8 439.7L576.3 441.1L576.7 442.5L577.2 443.9L577.7 445.3L578.2 446.6L578.7 448.0L579.2 449.4L579.7 450.8L580.1 452.2L580.6 453.6L581.1 455.0L581.6 456.3L582.0 457.7L582.5 459.1L583.0 460.5L583.4 461.9L583.9 463.3L584.3 464.7L584.8 466.1L585.3 467.5L585.7 468.9L586.2 470.3L586.7 471.7L587.1 473.1L587.6 474.5L588.0 475.9L588.5 477.3L589.0 478.7L589.4 480.1L589.9 481.5L590.4 482.9L590.8 484.3L591.3 485.7L591.8 487.1L592.2 488.5L592.7 489.9L593.2 491.3L593.7 492.8L594.1 494.2L594.6 495.6L595.1 497.0L595.6 498.4L596.1 499.9L596.6 501.3L597.1 502.7L597.6 504.1L598.1 505.6L598.6 507.0L599.1 508.4L599.6 509.9L600.1 511.3L600.6 512.8L601.2 514.2L601.7 515.6L602.2 517.1L602.8 518.5L603.3 520.0L603.9 521.4L604.4 522.9L605.0 524.4L605.6 525.8L606.2 527.2L606.7 528.7L607.3 530.1L608.0 531.6L608.6 533.0L609.2 534.4L609.9 535.8L610.5 537.2L611.2 538.6L611.9 539.9L612.6 541.3L613.3 542.6L614.1 543.9L614.8 545.2L615.6 546.5L616.4 547.7L617.2 549.0L618.1 550.2L618.9 551.4L619.8 552.5L620.7 553.6L621.6 554.7L622.6 555.8L623.6 556.8L624.6 557.8L625.6 558.8L626.7 559.7L627.8 560.6L628.9 561.4L630.1 562.3L631.3 563.0L632.5 563.7L633.8 564.4L635.1 565.1L636.4 565.7L637.7 566.2L639.1 566.7L640.6 567.2L642.1 567.6L643.6 567.9L645.1 568.2L646.7 568.5L648.2 568.7L649.8 568.9L651.5 569.1L653.1 569.2L654.7 569.3L656.4 569.3L658.0 569.3L659.7 569.3L661.3 569.3L663.0 569.3L664.6 569.3L666.2 569.3L667.8 569.3L669.3 569.3L670.9 569.3L672.4 569.3L673.9 569.3L675.3 569.3L676.7 569.3L678.0 569.3L679.4 569.3L680.6 569.3L681.8 569.3"/>
<path stroke="#8214ec" d="M384.4 569.3L385.8 568.3L387.1 567.0L388.3 565.8L389.4 564.5L390.4 563.2L391.4 562.0L392.2 560.7L393.0 559.4L393.7 558.1L394.3 556.8L394.9 555.5L395.5 554.2L396.0 552.9L396.4 551.6L396.8 550.2L397.2 548.9L397.6 547.6L398.0 546.2L398.3 544.9L398.6 543.5L399.0 542.2L399.3 540.8L399.6 539.4L400.0 538.0L400.3 536.7L400.6 535.3L400.9 533.9L401.2 532.5L401.5 531.1L401.8 529.7L402.1 528.3L402.4 526.9L402.7 525.5L403.0 524.1L403.2 522.6L403.5 521.2L403.8 519.8L404.1 518.3L404.3 516.9L404.6 515.5L404.8 514.0L405.1 512.6L405.3 511.1L405.6 509.7L405.8 508.2L406.1 506.7L406.3 505.3L406.5 503.8L406.8 502.3L407.0 500.9L407.2 499.4L407.5 497.9L407.7 496.4L407.9 495.0L408.1 493.5L408.3 492.0L408.5 490.5L408.7 489.0L408.9 487.5L409.1 486.0L409.3 484.5L409.5 483.0L409.7 481.5L409.9 480.0L410.1 478.5L410.3 477.0L410.5 475.5L410.7 474.0L410.9 472.5L411.0 471.0L411.2 469.5L411.4 467.9L411.6 466.4L411.7 464.9L411.9 463.4L412.1 461.9L412.3 460.4L412.4 458.9L412.6 457.3L412.8 455.8L412.9 454.3L413.1 452.8L413.2 451.3L413.4 449.7L413.6 448.2L413.7 446.7L413.9 445.2L414.0 443.7L414.2 442.2L414.3 440.6L414.5 439.1L414.7 437.6L414.8 436.1L415.0 434.6L415.1 433.1L415.3 431.6L415.4 430.0L415.6 428.5L415.7 427.0L415.9 425.5L416.0 424.0L416.2 422.5L416.3 421.0L416.5 419.5L416.6 418.0L416.8 416.5L416.9 415.0L417.1 413.5L417.2 412.0L417.3 410.5L417.5 409.0L417.6 407.5L417.8 406.0L417.9 404.5L418.1 403.0L418.2 401.5L418.4 400.0L418.5 398.5L418.6 397.0L418.8 395.5L418.9 394.0L419.1 392.5L419.2 391.0L419.4 389.5L419.5 388.0L419.6 386.5L419.8 385.0L419.9 383.5L420.1 382.0L420.2 380.5L420.4 379.0L420.5 377.6L420.6 376.1L420.8 374.6L420.9 373.1L421.1 371.6L421.2 370.1L421.4 368.6L421.5 367.1L421.6 365.6L421.8 364.2L421.9 362.7L422.1 361.2L422.2 359.7L422.4 358.2L422.5 356.7L422.7 355.2L422.8 353.8L422.9 352.3L423.1 350.8L423.2 349.3L423.4 347.8L423.5 346.3L423.7 344.9L423.8 343.4L424.0 341.9L424.1 340.4L424.3 338.9L424.4 337.5L424.6 336.0L424.7 334.5L424.9 333.0L425.0 331.5L425.2 330.1L425.3 328.6L425.5 327.1L425.6 325.6L425.8 324.1L425.9 322.7L426.1 321.2L426.2 319.7L426.4 318.2L426.5 316.7L426.7 315.3L426.9 313.8L427.0 312.3L427.2 310.8L427.3 309.4L427.5 307.9L427.7 306.4L427.8 304.9L428.0 303.5L428.1 302.0L428.3 300.5L428.5 299.0L428.6 297.5L428.8 296.1L429.0 294.6L429.1 293.1L429.3 291.6L429.5 290.2L429.6 288.7L429.8 287.2L430.0 285.7L430.2 284.3L430.3 282.8L430.5 281.3L430.7 279.8L430.9 278.4L431.0 276.9L431.2 275.4L431.4 273.9L431.6 272.4L431.8 271.0L432.0 269.5L432.1 268.0L432.3 266.5L432.5 265.1L432.7 263.6L432.9 262.1L433.1 260.6L433.3 259.2L433.5 257.7L433.7 256.2L433.9 254.7L434.1 253.2L434.3 251.8L434.5 250.3L434.7 248.8L434.9 247.3L435.1 245.8L435.3 244.4L435.5 242.9L435.7 241.4L435.9 239.9L436.1 238.4L436.3 237.0L436.5 235.5L436.7 234.0L437.0 232.5L437.2 231.0L437.4 229.6L437.6 228.1L437.8 226.6L438.1 225.1L438.3 223.6L438.5 222.1L438.7 220.6L439.0 219.2L439.2 217.7L439.4 216.2L439.6 214.7L439.9 213.2L440.1 211.7L440.3 210.2L440.5 208.7L440.7 207.2L441.0 205.7L441.2 204.2L441.4 202.7L441.6 201.1L441.8 199.6L442.0 198.1L442.2 196.6L442.4 195.0L442.6 193.5L442.8 192.0L443.0 190.4L443.2 188.9L443.4 187.3L443.5 185.8L443.7 184.3L443.9 182.7L444.1 181.2L444.3 179.6L444.5 178.1L444.7 176.6L444.9 175.1L445.2 173.5L445.4 172.0L445.7 170.6L446.0 169.1L446.3 167.6L446.6 166.2L447.0 164.7L447.4 163.3L447.9 161.9L448.4 160.5L449.0 159.2L449.6 157.8L450.3 156.5L451.1 155.2L451.9 153.9L452.8 152.7L453.8 151.5L454.8 150.4L455.9 149.4L457.1 148.7L458.2 148.3L459.4 148.1L460.5 148.4L461.6 149.0L462.7 149.9L463.7 151.0L464.7 152.3L465.7 153.7L466.6 155.3L467.4 156.8L468.2 158.3L468.9 159.9L469.5 161.4L470.1 162.9L470.7 164.4L471.2 165.9L471.6 167.4L472.1 168.9L472.5 170.4L472.9 171.9L473.3 173.4L473.6 174.8L474.0 176.3L474.4 177.7L474.7 179.2L475.1 180.6L475.5 182.1L475.8 183.5L476.2 184.9L476.5 186.3L476.8 187.7L477.2 189.2L477.5 190.6L477.8 192.0L478.2 193.4L478.5 194.8L478.8 196.2L479.2 197.6L479.5 199.0L479.8 200.4L480.1 201.8L480.5 203.2L480.8 204.6L481.1 206.0L481.4 207.4L481.8 208.8L482.1 210.2L482.4 211.7L482.7 213.1L483.1 214.5L483.4 215.9L483.7 217.4L484.1 218.8L484.4 220.3L484.7 221.7L485.1 223.2L485.4 224.6L485.8 226.1L486.1 227.5L486.4 229.0L486.8 230.4L487.1 231.9L487.4 233.4L487.8 234.9L488.1 236.3L488.5 237.8L488.8 239.3L489.1 240.8L489.5 242.2L489.8 243.7L490.2 245.2L490.5 246.7L490.8 248.2L491.2 249.7L491.5 251.2L491.8 252.7L492.2 254.1L492.5 255.6L492.8 257.1L493.2 258.6L493.5 260.1L493.8 261.6L494.1 263.1L494.5 264.6L494.8 266.1L495.1 267.6L495.4 269.1L495.7 270.6L496.0 272.1L496.4 273.6L496.7 275.1L497.0 276.6L497.3 278.1L497.6 279.6L497.9 281.1L498.2 282.6L498.5 284.1L498.8 285.6L499.1 287.1L499.3 288.6L499.6 290.1L499.9 291.6L500.2 293.1L500.5 294.6L500.8 296.1L501.0 297.6L501.3 299.0L501.6 300.5L501.9 302.0L502.2 303.5L502.5 305.0L502.7 306.4L503.0 307.9L503.3 309.4L503.6 310.9L503.9 312.3L504.2 313.8L504.5 315.2L504.8 316.7L505.1 318.2L505.5 319.6L505.8 321.1L506.1 322.5L506.5 324.0L506.8 325.4L507.2 326.8L507.5 328.3L507.9 329.7L508.3 331.1L508.7 332.5L509.1 334.0L509.5 335.4L509.9 336.8L510.3 338.2L510.7 339.6L511.2 341.0L511.6 342.4L512.1 343.8L512.6 345.2L513.1 346.5L513.6 347.9L514.1 349.3L514.6 350.6L515.2 352.0L515.7 353.4L516.3 354.7L516.9 356.0L517.5 357.4L518.1 358.7L518.7 360.0L519.4 361.4L520.1 362.7L520.7 364.0L521.4 365.3L522.1 366.6L522.9 367.9L523.6 369.2L524.4 370.5L525.1 371.7L525.9 373.0L526.7 374.3L527.5 375.6L528.3 376.8L529.1 378.1L530.0 379.3L530.8 380.6L531.6 381.9L532.5 383.1L533.3 384.4L534.2 385.6L535.1 386.8L535.9 388.1L536.8 389.3L537.7 390.6L538.6 391.8L539.4 393.1L540.3 394.3L541.2 395.5L542.1 396.8L543.0 398.0L543.8 399.3L544.7 400.5L545.6 401.7L546.5 403.0L547.3 404.2L548.2 405.5L549.1 406.7L549.9 408.0L550.8 409.2L551.6 410.5L552.4 411.7L553.2 413.0L554.1 414.3L554.9 415.5L555.6 416.8L556.4 418.1L557.2 419.4L558.0 420.6L558.7 421.9L559.4 423.2L560.2 424.5L560.9 425.8L561.6 427.1L562.2 428.4L562.9 429.7L563.6 431.1L564.2 432.4L564.9 433.7L565.5 435.0L566.1 436.4L566.7 437.7L567.3 439.1L567.9 440.4L568.5 441.8L569.1 443.1L569.6 444.5L570.2 445.8L570.7 447.2L571.3 448.6L571.8 449.9L572.3 451.3L572.8 452.7L573.4 454.1L573.9 455.4L574.4 456.8L574.9 458.2L575.4 459.6L575.8 461.0L576.3 462.4L576.8 463.8L577.3 465.2L577.7 466.6L578.2 468.0L578.7 469.4L579.1 470.8L579.6 472.2L580.0 473.7L580.5 475.1L580.9 476.5L581.4 477.9L581.8 479.3L582.3 480.8L582.7 482.2L583.2 483.6L583.6 485.0L584.1 486.5L584.5 487.9L585.0 489.3L585.4 490.8L585.9 492.2L586.3 493.7L586.8 495.1L587.2 496.5L587.7 498.0L588.1 499.4L588.6 500.9L589.1 502.3L589.5 503.7L590.0 505.2L590.5 506.6L591.0 508.1L591.4 509.5L591.9 511.0L592.4 512.4L592.9 513.9L593.4 515.3L594.0 516.8L594.5 518.2L595.0 519.7L595.5 521.1L596.1 522.6L596.6 524.0L597.2 525.4L597.8 526.9L598.3 528.3L598.9 529.7L599.5 531.2L600.1 532.6L600.8 534.0L601.4 535.4L602.1 536.7L602.7 538.1L603.4 539.5L604.1 540.8L604.9 542.1L605.6 543.4L606.4 544.7L607.1 546.0L607.9 547.2L608.8 548.4L609.6 549.6L610.5 550.8L611.4 551.9L612.3 553.1L613.2 554.2L614.2 555.2L615.2 556.3L616.2 557.3L617.3 558.3L618.3 559.2L619.4 560.1L620.6 561.0L621.7 561.8L622.9 562.6L624.2 563.4L625.4 564.1L626.7 564.8L628.0 565.4L629.4 566.0L630.8 566.6L632.2 567.1L633.7 567.6L635.2 568.0L636.7 568.4L638.2 568.8L639.8 569.1L641.4 569.3L643.0 569.3L644.6 569.3L646.2 569.3L647.8 569.3L649.4 569.3L651.1 569.3L652.7 569.3L654.3 569.3L655.9 569.3L657.6 569.3L659.2 569.3L660.8 569.3L662.4 569.3L663.9 569.3L665.5 569.3L667.0 569.3L668.5 569.3L670.0 569.3L671.5 569.3L672.9 569.3L674.3 569.3L675.6 569.3L676.9 569.3L678.2 569.3L679.5 569.3L680.7 569.3L681.8 569.3"/>
<path stroke="#117d15" d="M384.4 569.3L385.6 568.2L386.7 566.9L387.7 565.7L388.7 564.4L389.6 563.1L390.4 561.8L391.2 560.5L392.0 559.2L392.7 557.8L393.3 556.5L394.0 555.2L394.5 553.8L395.1 552.5L395.6 551.2L396.1 549.8L396.6 548.5L397.0 547.1L397.4 545.7L397.8 544.4L398.2 543.0L398.6 541.6L399.0 540.2L399.4 538.8L399.8 537.4L400.1 536.1L400.5 534.7L400.8 533.3L401.2 531.8L401.5 530.4L401.8 529.0L402.2 527.6L402.5 526.2L402.8 524.8L403.1 523.3L403.4 521.9L403.7 520.5L404.0 519.0L404.3 517.6L404.5 516.1L404.8 514.7L405.1 513.2L405.4 511.8L405.6 510.3L405.9 508.8L406.1 507.4L406.4 505.9L406.6 504.4L406.9 503.0L407.1 501.5L407.3 500.0L407.5 498.5L407.8 497.1L408.0 495.6L408.2 494.1L408.4 492.6L408.6 491.1L408.8 489.6L409.0 488.1L409.2 486.6L409.4 485.1L409.6 483.7L409.8 482.2L410.0 480.7L410.2 479.2L410.4 477.6L410.5 476.1L410.7 474.6L410.9 473.1L411.1 471.6L411.2 470.1L411.4 468.6L411.6 467.1L411.7 465.6L411.9 464.1L412.1 462.6L412.2 461.1L412.4 459.5L412.6 458.0L412.7 456.5L412.9 455.0L413.0 453.5L413.2 452.0L413.3 450.5L413.5 448.9L413.7 447.4L413.8 445.9L414.0 444.4L414.1 442.9L414.3 441.4L414.4 439.9L414.6 438.4L414.8 436.9L414.9 435.4L415.1 433.8L415.2 432.3L415.4 430.8L415.5 429.3L415.7 427.8L415.9 426.3L416.0 424.8L416.2 423.3L416.4 421.8L416.5 420.3L416.7 418.8L416.8 417.3L417.0 415.8L417.2 414.3L417.3 412.8L417.5 411.3L417.7 409.8L417.8 408.3L418.0 406.8L418.2 405.3L418.3 403.8L418.5 402.3L418.7 400.9L418.9 399.4L419.0 397.9L419.2 396.4L419.4 394.9L419.5 393.4L419.7 391.9L419.9 390.4L420.1 388.9L420.2 387.4L420.4 386.0L420.6 384.5L420.8 383.0L420.9 381.5L421.1 380.0L421.3 378.5L421.5 377.0L421.6 375.6L421.8 374.1L422.0 372.6L422.2 371.1L422.4 369.6L422.6 368.1L422.7 366.7L422.9 365.2L423.1 363.7L423.3 362.2L423.5 360.7L423.7 359.3L423.8 357.8L424.0 356.3L424.2 354.8L424.4 353.3L424.6 351.9L424.8 350.4L425.0 348.9L425.1 347.4L425.3 346.0L425.5 344.5L425.7 343.0L425.9 341.5L426.1 340.1L426.3 338.6L426.5 337.1L426.7 335.6L426.9 334.2L427.1 332.7L427.3 331.2L427.5 329.7L427.6 328.3L427.8 326.8L428.0 325.3L428.2 323.8L428.4 322.4L428.6 320.9L428.8 319.4L429.0 317.9L429.2 316.5L429.4 315.0L429.6 313.5L429.8 312.0L430.0 310.6L430.2 309.1L430.4 307.6L430.6 306.1L430.8 304.7L431.1 303.2L431.3 301.7L431.5 300.3L431.7 298.8L431.9 297.3L432.1 295.8L432.3 294.4L432.5 292.9L432.7 291.4L432.9 289.9L433.1 288.5L433.3 287.0L433.5 285.5L433.8 284.0L434.0 282.6L434.2 281.1L434.4 279.6L434.6 278.1L434.8 276.7L435.0 275.2L435.2 273.7L435.5 272.2L435.7 270.8L435.9 269.3L436.1 267.8L436.3 266.3L436.5 264.9L436.8 263.4L437.0 261.9L437.2 260.4L437.4 259.0L437.6 257.5L437.9 256.0L438.1 254.5L438.3 253.1L438.5 251.6L438.8 250.1L439.1 248.6L439.4 247.1L439.7 245.7L440.0 244.2L440.4 242.7L440.8 241.2L441.2 239.7L441.7 238.3L442.2 236.8L442.7 235.3L443.3 233.8L444.0 232.4L444.7 230.9L445.4 229.4L446.3 227.9L447.1 226.5L448.1 225.1L449.1 223.9L450.1 222.7L451.2 221.7L452.3 220.9L453.4 220.2L454.6 219.8L455.7 219.7L456.9 219.8L458.1 220.2L459.2 220.8L460.4 221.6L461.5 222.6L462.6 223.7L463.6 224.8L464.6 226.0L465.6 227.3L466.5 228.6L467.4 230.0L468.2 231.3L469.0 232.8L469.8 234.2L470.5 235.7L471.3 237.2L472.0 238.7L472.6 240.2L473.3 241.7L473.9 243.3L474.5 244.8L475.1 246.3L475.7 247.7L476.2 249.2L476.7 250.6L477.3 252.0L477.8 253.4L478.3 254.7L478.8 256.0L479.3 257.3L479.8 258.5L480.3 259.8L480.8 261.0L481.3 262.2L481.8 263.5L482.3 264.8L482.8 266.1L483.3 267.4L483.9 268.7L484.4 270.1L485.0 271.5L485.5 272.9L486.1 274.2L486.7 275.7L487.3 277.1L487.9 278.5L488.5 279.9L489.1 281.3L489.8 282.7L490.5 284.2L491.1 285.6L491.9 287.0L492.6 288.4L493.3 289.8L494.1 291.2L494.9 292.5L495.7 293.9L496.5 295.2L497.4 296.5L498.3 297.8L499.2 299.1L500.1 300.3L501.1 301.5L502.0 302.7L503.1 303.8L504.1 304.8L505.2 305.8L506.3 306.7L507.5 307.6L508.7 308.3L509.9 309.0L511.2 309.7L512.5 310.2L513.8 310.6L515.2 311.0L516.6 311.2L518.1 311.4L519.6 311.5L521.1 311.5L522.6 311.5L524.2 311.5L525.7 311.5L527.3 311.6L528.8 311.7L530.2 311.9L531.7 312.3L533.1 312.7L534.5 313.2L535.8 313.8L537.1 314.5L538.4 315.2L539.6 316.0L540.9 316.9L542.0 317.9L543.2 318.9L544.3 319.9L545.3 321.0L546.4 322.2L547.4 323.3L548.3 324.5L549.3 325.8L550.2 327.0L551.0 328.3L551.9 329.6L552.6 330.9L553.4 332.2L554.1 333.5L554.8 334.8L555.5 336.1L556.1 337.4L556.7 338.7L557.3 340.1L557.8 341.4L558.3 342.8L558.8 344.1L559.3 345.4L559.8 346.8L560.3 348.2L560.7 349.5L561.1 350.9L561.5 352.3L562.0 353.6L562.4 355.0L562.8 356.4L563.2 357.8L563.5 359.2L563.9 360.6L564.3 362.0L564.7 363.4L565.1 364.8L565.5 366.2L565.9 367.6L566.4 369.0L566.8 370.4L567.2 371.8L567.7 373.2L568.1 374.7L568.5 376.1L569.0 377.5L569.4 379.0L569.9 380.4L570.4 381.8L570.8 383.3L571.3 384.7L571.7 386.2L572.2 387.6L572.7 389.1L573.1 390.5L573.6 392.0L574.1 393.4L574.5 394.9L575.0 396.3L575.4 397.8L575.9 399.3L576.3 400.7L576.8 402.2L577.2 403.7L577.6 405.1L578.1 406.6L578.5 408.1L578.9 409.5L579.3 411.0L579.7 412.5L580.1 414.0L580.5 415.4L580.9 416.9L581.3 418.4L581.6 419.9L582.0 421.3L582.4 422.8L582.7 424.3L583.1 425.8L583.4 427.2L583.7 428.7L584.1 430.2L584.4 431.7L584.7 433.1L585.1 434.6L585.4 436.1L585.7 437.6L586.0 439.0L586.4 440.5L586.7 442.0L587.0 443.5L587.3 444.9L587.6 446.4L587.9 447.9L588.2 449.3L588.6 450.8L588.9 452.3L589.2 453.8L589.5 455.2L589.8 456.7L590.1 458.1L590.5 459.6L590.8 461.1L591.1 462.5L591.4 464.0L591.8 465.4L592.1 466.9L592.5 468.3L592.8 469.8L593.2 471.2L593.5 472.7L593.9 474.1L594.2 475.6L594.6 477.0L595.0 478.5L595.4 479.9L595.7 481.3L596.1 482.8L596.5 484.2L597.0 485.6L597.4 487.0L597.8 488.4L598.2 489.9L598.7 491.3L599.1 492.7L599.6 494.1L600.1 495.5L600.5 496.9L601.0 498.3L601.5 499.7L602.0 501.1L602.5 502.5L603.1 503.9L603.6 505.2L604.2 506.6L604.7 508.0L605.3 509.4L605.9 510.7L606.5 512.1L607.1 513.4L607.8 514.8L608.4 516.1L609.1 517.5L609.7 518.8L610.4 520.2L611.1 521.5L611.9 522.8L612.6 524.1L613.3 525.5L614.1 526.8L614.9 528.1L615.7 529.4L616.5 530.6L617.3 531.9L618.2 533.2L619.0 534.4L619.9 535.7L620.8 536.9L621.7 538.1L622.6 539.3L623.5 540.5L624.5 541.7L625.4 542.8L626.4 544.0L627.4 545.1L628.4 546.2L629.4 547.3L630.5 548.4L631.5 549.4L632.6 550.4L633.7 551.4L634.8 552.4L635.9 553.4L637.0 554.3L638.2 555.3L639.3 556.1L640.5 557.0L641.7 557.9L642.9 558.7L644.2 559.5L645.4 560.2L646.7 561.0L648.0 561.7L649.2 562.4L650.6 563.0L651.9 563.6L653.2 564.2L654.6 564.8L656.0 565.3L657.3 565.8L658.7 566.3L660.2 566.7L661.6 567.1L663.1 567.4L664.5 567.7L666.0 568.0L667.5 568.2L669.0 568.4L670.6 568.6L672.1 568.7L673.7 568.8L675.3 568.9L676.9 568.9L678.5 568.8L680.1 568.7L681.8 568.6"/>
<path stroke="#f08628" d="M384.4 569.3L385.2 568.1L385.9 566.7L386.6 565.3L387.3 563.9L387.9 562.5L388.6 561.1L389.2 559.7L389.7 558.2L390.3 556.8L390.8 555.4L391.3 554.0L391.8 552.6L392.2 551.2L392.7 549.7L393.1 548.3L393.5 546.9L393.9 545.5L394.3 544.0L394.7 542.6L395.0 541.2L395.4 539.7L395.7 538.3L396.0 536.9L396.3 535.4L396.6 534.0L396.9 532.5L397.2 531.1L397.5 529.7L397.8 528.2L398.1 526.8L398.4 525.3L398.6 523.9L398.9 522.4L399.2 521.0L399.5 519.5L399.7 518.1L400.0 516.6L400.2 515.2L400.5 513.7L400.8 512.2L401.0 510.8L401.3 509.3L401.5 507.9L401.8 506.4L402.0 504.9L402.2 503.5L402.5 502.0L402.7 500.5L402.9 499.1L403.2 497.6L403.4 496.1L403.6 494.7L403.8 493.2L404.1 491.7L404.3 490.2L404.5 488.8L404.7 487.3L404.9 485.8L405.1 484.3L405.3 482.9L405.5 481.4L405.7 479.9L405.9 478.4L406.1 476.9L406.3 475.5L406.5 474.0L406.7 472.5L406.9 471.0L407.1 469.5L407.3 468.0L407.4 466.5L407.6 465.1L407.8 463.6L408.0 462.1L408.2 460.6L408.3 459.1L408.5 457.6L408.7 456.1L408.9 454.6L409.0 453.1L409.2 451.6L409.4 450.2L409.5 448.7L409.7 447.2L409.9 445.7L410.0 444.2L410.2 442.7L410.3 441.2L410.5 439.7L410.7 438.2L410.8 436.7L411.0 435.2L411.1 433.7L411.3 432.2L411.4 430.7L411.6 429.2L411.7 427.7L411.9 426.2L412.0 424.7L412.2 423.2L412.3 421.7L412.5 420.2L412.6 418.7L412.7 417.2L412.9 415.7L413.0 414.2L413.2 412.7L413.3 411.2L413.4 409.7L413.6 408.2L413.7 406.7L413.9 405.2L414.0 403.7L414.1 402.2L414.3 400.7L414.4 399.2L414.6 397.7L414.7 396.2L414.8 394.7L415.0 393.2L415.1 391.7L415.2 390.2L415.4 388.7L415.5 387.2L415.7 385.7L415.8 384.2L415.9 382.7L416.1 381.2L416.2 379.7L416.3 378.2L416.5 376.7L416.6 375.2L416.7 373.7L416.9 372.2L417.0 370.7L417.2 369.2L417.3 367.7L417.4 366.2L417.6 364.7L417.7 363.2L417.9 361.7L418.0 360.2L418.1 358.7L418.3 357.2L418.4 355.7L418.6 354.2L418.7 352.7L418.9 351.2L419.0 349.7L419.1 348.2L419.3 346.8L419.4 345.3L419.6 343.8L419.7 342.3L419.9 340.8L420.0 339.3L420.2 337.8L420.3 336.3L420.5 334.8L420.6 333.3L420.8 331.8L420.9 330.3L421.1 328.8L421.2 327.4L421.4 325.9L421.5 324.4L421.7 322.9L421.9 321.4L422.0 319.9L422.2 318.4L422.3 316.9L422.5 315.5L422.7 314.0L422.8 312.5L423.0 311.0L423.2 309.5L423.3 308.0L423.5 306.5L423.7 305.1L423.9 303.6L424.0 302.1L424.2 300.6L424.4 299.1L424.6 297.6L424.7 296.2L424.9 294.7L425.1 293.2L425.3 291.7L425.5 290.2L425.6 288.7L425.8 287.3L426.0 285.8L426.2 284.3L426.4 282.8L426.6 281.4L426.8 279.9L427.0 278.4L427.2 276.9L427.4 275.4L427.6 274.0L427.8 272.5L428.0 271.0L428.2 269.5L428.4 268.1L428.6 266.6L428.8 265.1L429.0 263.7L429.2 262.2L429.5 260.7L429.7 259.2L429.9 257.8L430.1 256.3L430.4 254.8L430.6 253.4L430.8 251.9L431.0 250.4L431.3 248.9L431.5 247.5L431.7 246.0L432.0 244.5L432.2 243.1L432.5 241.6L432.7 240.1L433.0 238.7L433.2 237.2L433.5 235.8L433.7 234.3L434.0 232.8L434.2 231.4L434.5 229.9L434.7 228.4L435.0 227.0L435.3 225.5L435.5 224.1L435.8 222.6L436.1 221.1L436.4 219.7L436.6 218.2L436.9 216.7L437.2 215.3L437.5 213.8L437.8 212.3L438.1 210.9L438.4 209.4L438.7 207.9L439.0 206.4L439.3 204.9L439.6 203.4L439.9 201.9L440.2 200.4L440.5 198.9L440.8 197.4L441.1 195.9L441.5 194.4L441.8 192.9L442.1 191.4L442.4 189.8L442.8 188.3L443.1 186.8L443.5 185.2L443.9 183.7L444.4 182.2L444.8 180.7L445.3 179.2L445.8 177.7L446.4 176.3L447.1 174.9L447.7 173.5L448.5 172.1L449.3 170.8L450.2 169.5L451.1 168.3L452.1 167.2L453.1 166.4L454.2 165.8L455.2 165.7L456.3 165.9L457.4 166.5L458.4 167.4L459.5 168.5L460.4 169.6L461.4 170.8L462.3 172.0L463.1 173.3L463.9 174.5L464.7 175.8L465.4 177.1L466.2 178.4L466.8 179.8L467.5 181.1L468.1 182.5L468.7 183.9L469.2 185.2L469.8 186.7L470.3 188.1L470.8 189.5L471.4 190.9L471.8 192.4L472.3 193.9L472.8 195.3L473.3 196.8L473.8 198.3L474.3 199.7L474.7 201.2L475.2 202.7L475.7 204.2L476.2 205.7L476.7 207.2L477.1 208.7L477.6 210.2L478.1 211.7L478.5 213.1L479.0 214.6L479.4 216.1L479.9 217.6L480.3 219.0L480.8 220.5L481.2 222.0L481.6 223.4L482.1 224.9L482.5 226.4L482.9 227.8L483.3 229.3L483.8 230.7L484.2 232.2L484.6 233.7L485.0 235.1L485.4 236.5L485.8 238.0L486.2 239.4L486.6 240.9L487.0 242.3L487.4 243.8L487.8 245.2L488.2 246.6L488.6 248.1L489.1 249.5L489.5 250.9L489.9 252.4L490.3 253.8L490.7 255.2L491.1 256.6L491.5 258.1L491.9 259.5L492.3 260.9L492.7 262.3L493.2 263.8L493.6 265.2L494.0 266.6L494.4 268.0L494.9 269.4L495.3 270.8L495.7 272.3L496.2 273.7L496.6 275.1L497.1 276.5L497.5 277.9L498.0 279.3L498.4 280.7L498.9 282.1L499.3 283.6L499.8 285.0L500.2 286.4L500.7 287.8L501.2 289.2L501.6 290.6L502.1 292.0L502.6 293.4L503.1 294.8L503.5 296.2L504.0 297.6L504.5 299.0L505.0 300.4L505.5 301.8L506.0 303.2L506.5 304.6L507.0 306.0L507.5 307.4L508.0 308.8L508.5 310.2L509.0 311.6L509.5 312.9L510.1 314.3L510.6 315.7L511.1 317.1L511.6 318.5L512.2 319.9L512.7 321.3L513.2 322.7L513.8 324.1L514.3 325.4L514.9 326.8L515.4 328.2L515.9 329.6L516.5 331.0L517.1 332.4L517.6 333.7L518.2 335.1L518.7 336.5L519.3 337.9L519.9 339.3L520.4 340.6L521.0 342.0L521.6 343.4L522.2 344.8L522.8 346.1L523.4 347.5L523.9 348.9L524.5 350.3L525.1 351.6L525.7 353.0L526.3 354.4L526.9 355.7L527.5 357.1L528.2 358.5L528.8 359.9L529.4 361.2L530.0 362.6L530.6 364.0L531.2 365.3L531.9 366.7L532.5 368.1L533.1 369.4L533.7 370.8L534.4 372.2L535.0 373.5L535.6 374.9L536.3 376.3L536.9 377.6L537.6 379.0L538.2 380.3L538.8 381.7L539.5 383.1L540.1 384.4L540.8 385.8L541.4 387.1L542.1 388.5L542.7 389.9L543.4 391.2L544.0 392.6L544.7 393.9L545.4 395.3L546.0 396.7L546.7 398.0L547.3 399.4L548.0 400.7L548.7 402.1L549.3 403.4L550.0 404.8L550.6 406.1L551.3 407.5L552.0 408.8L552.6 410.2L553.3 411.6L554.0 412.9L554.6 414.3L555.3 415.6L555.9 417.0L556.6 418.3L557.3 419.7L557.9 421.0L558.6 422.4L559.3 423.7L559.9 425.1L560.6 426.4L561.3 427.8L561.9 429.1L562.6 430.5L563.2 431.8L563.9 433.2L564.6 434.5L565.2 435.9L565.9 437.2L566.5 438.5L567.2 439.9L567.9 441.2L568.5 442.6L569.2 443.9L569.8 445.3L570.5 446.6L571.1 448.0L571.8 449.3L572.4 450.7L573.1 452.0L573.7 453.4L574.4 454.7L575.1 456.0L575.7 457.4L576.4 458.7L577.0 460.1L577.7 461.4L578.3 462.8L579.0 464.1L579.6 465.4L580.3 466.8L580.9 468.1L581.6 469.5L582.2 470.8L582.9 472.1L583.6 473.5L584.2 474.8L584.9 476.2L585.5 477.5L586.2 478.8L586.8 480.2L587.5 481.5L588.2 482.9L588.8 484.2L589.5 485.5L590.1 486.9L590.8 488.2L591.5 489.6L592.1 490.9L592.8 492.2L593.5 493.6L594.1 494.9L594.8 496.2L595.5 497.6L596.1 498.9L596.8 500.2L597.5 501.6L598.2 502.9L598.8 504.2L599.5 505.6L600.2 506.9L600.9 508.2L601.6 509.6L602.2 510.9L602.9 512.2L603.6 513.6L604.3 514.9L605.0 516.2L605.7 517.6L606.4 518.9L607.1 520.2L607.8 521.6L608.5 522.9L609.2 524.2L609.9 525.5L610.6 526.9L611.3 528.2L612.1 529.5L612.8 530.8L613.5 532.1L614.3 533.4L615.0 534.7L615.8 536.0L616.6 537.2L617.4 538.5L618.2 539.7L619.0 541.0L619.8 542.2L620.6 543.4L621.5 544.6L622.4 545.8L623.3 546.9L624.2 548.1L625.1 549.2L626.0 550.3L627.0 551.4L628.0 552.5L629.0 553.5L630.0 554.5L631.0 555.5L632.1 556.5L633.2 557.5L634.3 558.4L635.5 559.3L636.6 560.2L637.8 561.0L639.0 561.8L640.3 562.6L641.6 563.4L642.9 564.1L644.2 564.8L645.6 565.5L647.0 566.1L648.4 566.7L649.9 567.2L651.4 567.8L652.9 568.3L654.5 568.7L656.0 569.1L657.6 569.3L659.2 569.3L660.8 569.3L662.4 569.3L664.0 569.3L665.6 569.3L667.2 569.3L668.7 569.3L670.3 569.3L671.9 569.3L673.4 569.3L674.9 569.3L676.3 569.3L677.8 569.3L679.1 569.3L680.5 569.3L681.8 569.3"/>
<path stroke="#0e0cd2" d="M384.4 569.3L385.8 568.3L387.0 567.0L388.2 565.8L389.3 564.5L390.2 563.2L391.2 561.9L392.0 560.7L392.8 559.4L393.5 558.1L394.1 556.8L394.7 555.5L395.3 554.2L395.8 552.9L396.3 551.5L396.7 550.2L397.1 548.9L397.5 547.5L397.9 546.2L398.3 544.8L398.6 543.5L399.0 542.1L399.3 540.8L399.7 539.4L400.0 538.0L400.3 536.6L400.7 535.2L401.0 533.9L401.3 532.5L401.6 531.1L401.9 529.7L402.2 528.3L402.5 526.9L402.8 525.4L403.1 524.0L403.4 522.6L403.7 521.2L404.0 519.7L404.2 518.3L404.5 516.9L404.8 515.4L405.0 514.0L405.3 512.5L405.5 511.1L405.8 509.6L406.0 508.2L406.2 506.7L406.5 505.2L406.7 503.8L406.9 502.3L407.2 500.8L407.4 499.4L407.6 497.9L407.8 496.4L408.0 494.9L408.2 493.4L408.4 492.0L408.6 490.5L408.8 489.0L409.0 487.5L409.2 486.0L409.4 484.5L409.6 483.0L409.8 481.5L410.0 480.0L410.2 478.5L410.3 477.0L410.5 475.5L410.7 474.0L410.9 472.5L411.0 470.9L411.2 469.4L411.4 467.9L411.5 466.4L411.7 464.9L411.9 463.4L412.0 461.9L412.2 460.3L412.4 458.8L412.5 457.3L412.7 455.8L412.8 454.3L413.0 452.8L413.1 451.2L413.3 449.7L413.4 448.2L413.6 446.7L413.7 445.2L413.9 443.7L414.0 442.1L414.2 440.6L414.3 439.1L414.5 437.6L414.6 436.1L414.8 434.6L414.9 433.0L415.1 431.5L415.2 430.0L415.4 428.5L415.5 427.0L415.7 425.5L415.8 424.0L416.0 422.5L416.1 421.0L416.2 419.5L416.4 418.0L416.5 416.4L416.7 414.9L416.8 413.4L417.0 411.9L417.1 410.4L417.3 408.9L417.4 407.4L417.6 405.9L417.7 404.4L417.9 402.9L418.0 401.4L418.2 399.9L418.3 398.4L418.5 396.9L418.6 395.4L418.7 393.9L418.9 392.4L419.0 390.9L419.2 389.4L419.3 388.0L419.5 386.5L419.6 385.0L419.8 383.5L419.9 382.0L420.1 380.5L420.2 379.0L420.4 377.5L420.5 376.0L420.7 374.5L420.8 373.0L421.0 371.5L421.1 370.0L421.3 368.6L421.4 367.1L421.6 365.6L421.7 364.1L421.9 362.6L422.0 361.1L422.2 359.6L422.3 358.1L422.5 356.7L422.6 355.2L422.8 353.7L422.9 352.2L423.1 350.7L423.2 349.2L423.4 347.7L423.6 346.3L423.7 344.8L423.9 343.3L424.0 341.8L424.2 340.3L424.3 338.8L424.5 337.4L424.6 335.9L424.8 334.4L425.0 332.9L425.1 331.4L425.3 330.0L425.4 328.5L425.6 327.0L425.7 325.5L425.9 324.0L426.1 322.5L426.2 321.1L426.4 319.6L426.5 318.1L426.7 316.6L426.9 315.1L427.0 313.7L427.2 312.2L427.4 310.7L427.5 309.2L427.7 307.8L427.9 306.3L428.0 304.8L428.2 303.3L428.4 301.8L428.5 300.4L428.7 298.9L428.9 297.4L429.0 295.9L429.2 294.4L429.4 293.0L429.5 291.5L429.7 290.0L429.9 288.5L430.0 287.0L430.2 285.6L430.4 284.1L430.6 282.6L430.7 281.1L430.9 279.7L431.1 278.2L431.3 276.7L431.4 275.2L431.6 273.7L431.8 272.3L432.0 270.8L432.2 269.3L432.3 267.8L432.5 266.3L432.7 264.9L432.9 263.4L433.1 261.9L433.3 260.4L433.4 258.9L433.6 257.5L433.8 256.0L434.0 254.5L434.2 253.0L434.4 251.5L434.6 250.1L434.8 248.6L435.0 247.1L435.1 245.6L435.3 244.1L435.5 242.6L435.7 241.2L435.9 239.7L436.1 238.2L436.3 236.7L436.5 235.2L436.7 233.7L436.9 232.3L437.1 230.8L437.3 229.3L437.5 227.8L437.7 226.3L437.9 224.8L438.1 223.3L438.3 221.9L438.5 220.4L438.7 218.9L438.9 217.4L439.2 215.9L439.4 214.4L439.6 212.9L439.8 211.4L440.0 209.9L440.2 208.5L440.4 207.0L440.7 205.5L440.9 204.0L441.1 202.5L441.3 201.0L441.5 199.5L441.8 198.0L442.0 196.5L442.2 195.0L442.4 193.5L442.7 192.0L442.9 190.6L443.1 189.1L443.4 187.6L443.6 186.1L443.9 184.6L444.1 183.1L444.4 181.6L444.6 180.1L444.9 178.6L445.1 177.1L445.4 175.7L445.6 174.2L445.9 172.7L446.2 171.2L446.5 169.7L446.8 168.2L447.1 166.7L447.5 165.3L447.8 163.8L448.2 162.3L448.7 160.8L449.1 159.3L449.6 157.9L450.1 156.4L450.7 154.9L451.3 153.5L452.0 152.0L452.7 150.5L453.5 149.1L454.3 147.6L455.1 146.3L456.0 145.0L456.9 144.0L457.9 143.1L458.8 142.5L459.8 142.3L460.7 142.4L461.6 142.9L462.5 143.7L463.4 144.7L464.3 146.0L465.2 147.3L466.0 148.8L466.9 150.4L467.7 152.0L468.4 153.5L469.2 155.1L470.0 156.7L470.7 158.3L471.3 159.8L472.0 161.4L472.6 162.9L473.2 164.5L473.8 166.0L474.3 167.5L474.8 169.0L475.3 170.4L475.7 171.9L476.1 173.3L476.4 174.8L476.7 176.2L477.0 177.6L477.3 179.0L477.5 180.3L477.8 181.7L478.0 183.1L478.2 184.5L478.5 185.9L478.7 187.2L478.9 188.6L479.1 190.0L479.3 191.4L479.6 192.8L479.8 194.2L480.1 195.7L480.3 197.1L480.6 198.5L480.8 200.0L481.1 201.5L481.4 202.9L481.7 204.4L482.0 205.8L482.3 207.3L482.5 208.8L482.8 210.3L483.1 211.8L483.4 213.3L483.7 214.8L484.0 216.2L484.4 217.7L484.7 219.2L485.0 220.7L485.3 222.2L485.6 223.7L485.9 225.2L486.2 226.7L486.5 228.2L486.8 229.7L487.1 231.2L487.4 232.7L487.7 234.2L488.0 235.6L488.3 237.1L488.6 238.6L489.0 240.1L489.2 241.6L489.5 243.0L489.8 244.5L490.1 246.0L490.4 247.4L490.7 248.9L491.0 250.4L491.3 251.8L491.6 253.3L491.9 254.8L492.2 256.2L492.5 257.7L492.8 259.1L493.1 260.6L493.4 262.1L493.7 263.5L494.0 265.0L494.3 266.4L494.6 267.9L494.9 269.3L495.1 270.8L495.4 272.2L495.7 273.7L496.0 275.1L496.3 276.6L496.6 278.0L496.9 279.5L497.2 280.9L497.5 282.4L497.8 283.8L498.1 285.3L498.4 286.7L498.8 288.2L499.1 289.6L499.4 291.1L499.7 292.5L500.0 294.0L500.3 295.4L500.6 296.9L500.9 298.3L501.3 299.8L501.6 301.3L501.9 302.7L502.2 304.2L502.6 305.6L502.9 307.1L503.2 308.5L503.6 310.0L503.9 311.5L504.2 312.9L504.6 314.4L504.9 315.9L505.3 317.3L505.6 318.8L506.0 320.3L506.3 321.8L506.7 323.2L507.0 324.7L507.4 326.2L507.8 327.7L508.1 329.1L508.5 330.6L508.9 332.1L509.3 333.6L509.7 335.1L510.0 336.6L510.4 338.1L510.9 339.6L511.3 341.0L511.7 342.5L512.1 344.0L512.6 345.5L513.0 346.9L513.5 348.4L514.0 349.8L514.5 351.2L515.0 352.7L515.5 354.1L516.1 355.5L516.6 356.9L517.2 358.2L517.8 359.6L518.4 361.0L519.1 362.3L519.7 363.6L520.4 364.9L521.1 366.2L521.9 367.4L522.6 368.7L523.4 369.9L524.2 371.1L525.1 372.3L525.9 373.4L526.8 374.6L527.7 375.7L528.7 376.7L529.7 377.8L530.7 378.8L531.7 379.8L532.8 380.8L533.9 381.8L535.0 382.7L536.1 383.7L537.3 384.6L538.4 385.5L539.6 386.4L540.8 387.3L542.0 388.2L543.1 389.1L544.3 390.0L545.5 390.9L546.7 391.8L547.9 392.8L549.0 393.7L550.2 394.7L551.3 395.6L552.4 396.6L553.5 397.6L554.6 398.7L555.7 399.7L556.7 400.8L557.7 401.9L558.7 403.0L559.7 404.1L560.6 405.3L561.4 406.5L562.3 407.7L563.1 408.9L563.9 410.2L564.7 411.4L565.4 412.7L566.1 414.0L566.8 415.3L567.5 416.7L568.1 418.0L568.7 419.4L569.3 420.8L569.9 422.2L570.5 423.6L571.0 425.0L571.5 426.4L572.0 427.8L572.5 429.3L573.0 430.7L573.5 432.2L573.9 433.7L574.4 435.1L574.8 436.6L575.2 438.1L575.7 439.5L576.1 441.0L576.5 442.5L576.9 444.0L577.3 445.5L577.7 446.9L578.0 448.4L578.4 449.9L578.8 451.3L579.2 452.8L579.6 454.2L580.0 455.7L580.4 457.1L580.8 458.6L581.1 460.0L581.5 461.5L581.9 462.9L582.3 464.3L582.7 465.7L583.1 467.2L583.5 468.6L583.9 470.0L584.3 471.4L584.7 472.8L585.1 474.3L585.5 475.7L585.9 477.1L586.3 478.5L586.7 479.9L587.1 481.3L587.5 482.7L588.0 484.1L588.4 485.5L588.8 486.9L589.2 488.3L589.7 489.7L590.1 491.1L590.5 492.5L591.0 493.9L591.4 495.4L591.8 496.8L592.3 498.2L592.8 499.6L593.2 501.0L593.7 502.4L594.1 503.8L594.6 505.3L595.1 506.7L595.6 508.1L596.1 509.5L596.5 511.0L597.0 512.4L597.5 513.8L598.0 515.3L598.6 516.7L599.1 518.2L599.6 519.6L600.1 521.1L600.7 522.6L601.2 524.0L601.8 525.5L602.3 526.9L602.9 528.4L603.5 529.9L604.1 531.3L604.7 532.8L605.3 534.2L605.9 535.6L606.5 537.0L607.2 538.5L607.9 539.8L608.6 541.2L609.3 542.6L610.0 543.9L610.7 545.2L611.5 546.5L612.3 547.8L613.1 549.1L613.9 550.3L614.8 551.5L615.7 552.7L616.6 553.8L617.5 554.9L618.5 556.0L619.4 557.1L620.4 558.1L621.5 559.1L622.5 560.0L623.6 560.9L624.8 561.7L625.9 562.6L627.1 563.3L628.3 564.1L629.6 564.7L630.9 565.4L632.2 565.9L633.6 566.5L635.0 567.0L636.4 567.4L637.9 567.7L639.4 568.1L641.0 568.4L642.5 568.6L644.1 568.8L645.7 569.0L647.3 569.1L648.9 569.2L650.6 569.3L652.2 569.3L653.9 569.3L655.5 569.3L657.2 569.3L658.8 569.3L660.4 569.3L662.1 569.3L663.7 569.2L665.3 569.2L666.8 569.1L668.4 569.1L669.9 569.0L671.4 569.0L672.8 569.0L674.2 569.0L675.6 569.0L677.0 569.1L678.2 569.1L679.5 569.2L680.7 569.3L681.8 569.3"/>
</g>
<g fill="none" stroke="#000" stroke-width="2.3">
<rect x="111.8" y="23.7" width="135.9" height="545.9"/>
<rect x="384.4" y="23.7" width="297.4" height="545.9"/>
<path d="M111.8 569.6V580.4M173.6 569.6V580.4M235.4 569.6V580.4M384.4 569.6V580.4M490.7 569.6V580.4M597.0 569.6V580.4M384.4 569.6H373.4M384.4 491.6H373.4M384.4 413.6H373.4M384.4 335.6H373.4M384.4 257.6H373.4M384.4 179.6H373.4M384.4 101.6H373.4M384.4 23.6H373.4"/>
</g>
<g font-family="Liberation Sans, Arial, sans-serif" font-weight="bold" font-size="33" fill="#000">
<text x="111.8" y="611.8" text-anchor="middle" font-size="34">0</text>
<text x="173.6" y="611.8" text-anchor="middle" font-size="34">5</text>
<text x="235.4" y="611.8" text-anchor="middle" font-size="34">10</text>
<text x="384.4" y="611.8" text-anchor="middle" font-size="34">0.0</text>
<text x="490.7" y="611.8" text-anchor="middle" font-size="34">0.5</text>
<text x="597.0" y="611.8" text-anchor="middle" font-size="34">1.0</text>
<text x="367.2" y="578.6" text-anchor="end" font-size="33.5">0.0</text>
<text x="367.2" y="500.6" text-anchor="end" font-size="33.5">0.2</text>
<text x="367.2" y="422.6" text-anchor="end" font-size="33.5">0.4</text>
<text x="367.2" y="344.6" text-anchor="end" font-size="33.5">0.6</text>
<text x="367.2" y="266.6" text-anchor="end" font-size="33.5">0.8</text>
<text x="367.2" y="188.6" text-anchor="end" font-size="33.5">1.0</text>
<text x="367.2" y="110.6" text-anchor="end" font-size="33.5">1.2</text>
<text x="367.2" y="32.6" text-anchor="end" font-size="33.5">1.4</text>
<text x="178.5" y="655" text-anchor="middle">Time (ps)</text>
<text x="534" y="655" text-anchor="middle">Frequency (THz)</text>
<text transform="translate(83.7 291.2) rotate(-90)" text-anchor="middle" font-size="33.3">Transmitted THz electric field (a.u.)</text>
<text transform="translate(299 317.2) rotate(-90)" text-anchor="middle" font-size="32.6">Power (a.u.)</text>
<text x="0" y="24.7">(a)</text>
<text x="272" y="24.7">(b)</text>
</g>
<g stroke-width="2.4" fill="none">
<path stroke="#000000" d="M517.1 47.0H577.3"/>
<path stroke="#e0101a" d="M517.1 82.6H577.3"/>
<path stroke="#22e4e6" d="M517.1 114.5H577.3"/>
<path stroke="#8214ec" d="M517.1 146.4H577.3"/>
<path stroke="#117d15" d="M517.1 178.6H577.3"/>
<path stroke="#f08628" d="M517.1 210.5H577.3"/>
<path stroke="#0e0cd2" d="M517.1 242.5H577.3"/>
</g>
<g font-family="Liberation Sans, Arial, sans-serif" font-size="26" fill="#000">
<text transform="translate(584.0 56.4) scale(0.87 1)" font-weight="bold" font-style="italic">E</text><text x="600.1" y="56.4">(<tspan font-style="italic">t</tspan>) off</text>
<text x="582.8" y="91.7" text-anchor="start"><tspan font-family="Liberation Serif, Times New Roman, serif">Δ</tspan><tspan font-family="Liberation Serif, Times New Roman, serif" font-style="italic" font-size="28.0">t</tspan><tspan dx="0.0"> :</tspan><tspan dx="-0.6"> 0 ps</tspan></text>
<text x="584.0" y="123.6">1 ps</text>
<text x="584.0" y="155.5">2 ps</text>
<text x="584.0" y="187.7">3 ps</text>
<text x="584.0" y="219.6">5 ps</text>
<text x="584.0" y="251.6">7 ps</text>
<text transform="translate(165.6 56.4) scale(0.87 1)" font-weight="bold" font-style="italic">E</text><text x="181.7" y="56.4">(<tspan font-style="italic">t</tspan>) off</text>
<text x="242.3" y="124.4" text-anchor="end"><tspan font-family="Liberation Serif, Times New Roman, serif">Δ</tspan><tspan font-family="Liberation Serif, Times New Roman, serif" font-style="italic" font-size="28.0">t</tspan><tspan dx="0.0"> :</tspan><tspan dx="-0.6"> 0 ps</tspan></text>
<text x="241.9" y="200.6" text-anchor="end">1 ps</text>
<text x="241.9" y="277.6" text-anchor="end">2 ps</text>
<text x="241.5" y="348.7" text-anchor="end">3 ps</text>
<text x="117.5" y="425.3">5 ps</text>
<text x="117.5" y="497.3">7 ps</text>
</g>
<g font-family="Liberation Serif, Times New Roman, serif" font-size="32" fill="#000">
<text transform="translate(140.6 557.4) scale(1.20 1)" font-style="italic">φ</text>
<text transform="translate(166.1 559.4) scale(1.12 1)" stroke="#000" stroke-width="0.50">=</text>
<text transform="translate(195.4 557.4) scale(0.95 1)" stroke="#000" stroke-width="0.50">π</text>
<text transform="translate(467.4 548.0) scale(1.20 1)" font-style="italic">φ</text>
<text transform="translate(492.9 550.0) scale(1.12 1)" stroke="#000" stroke-width="0.50">=</text>
<text transform="translate(522.2 548.0) scale(0.95 1)" stroke="#000" stroke-width="0.50">π</text>
</g>
</svg>
</body></html>
